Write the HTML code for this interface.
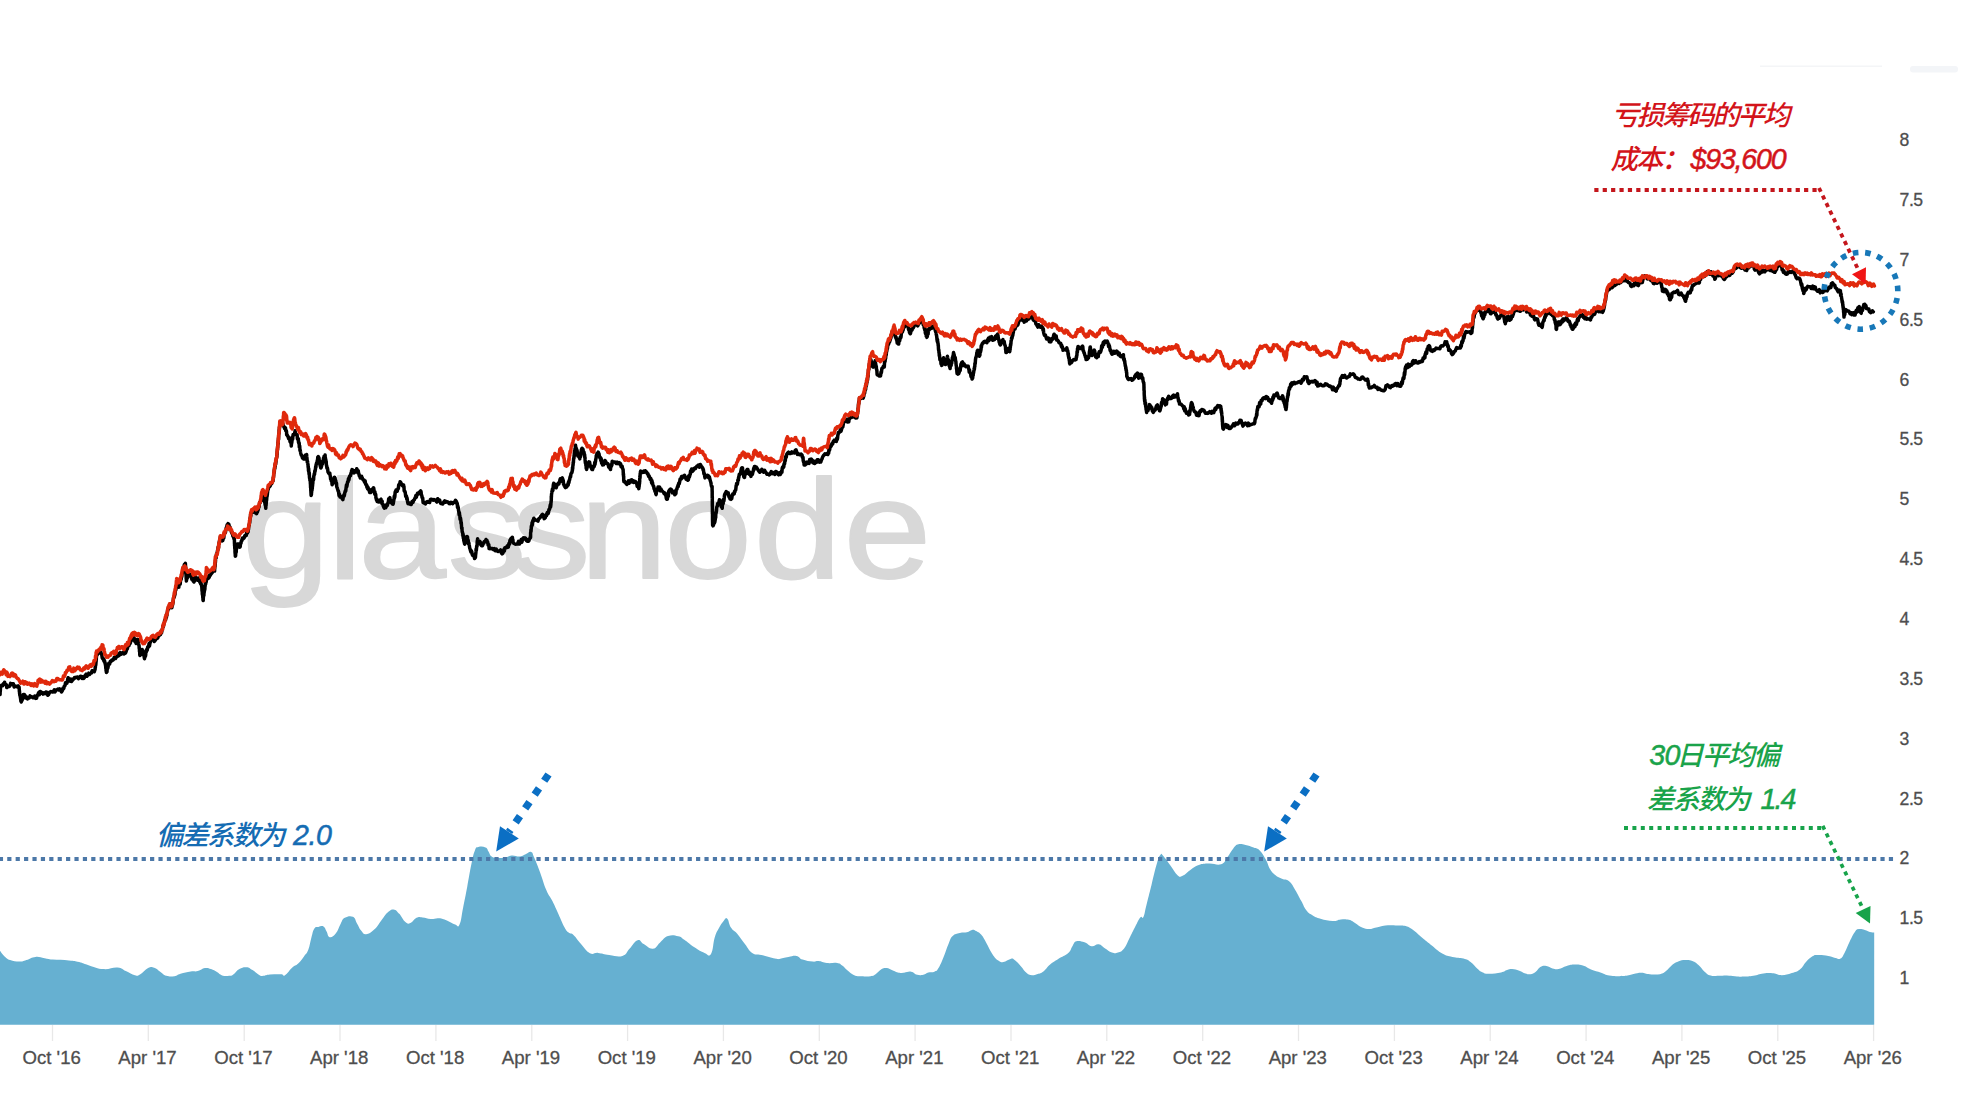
<!DOCTYPE html>
<html lang="zh-CN">
<head>
<meta charset="utf-8">
<title>glassnode chart</title>
<style>
html,body{margin:0;padding:0;background:#fff;}
body{width:1972px;height:1106px;overflow:hidden;position:relative;font-family:"Liberation Sans","Noto Sans CJK SC",sans-serif;}
svg{position:absolute;left:0;top:0;display:block;}
.ax text{font-family:"Liberation Sans",sans-serif;fill:#4e4e4e;stroke:#4e4e4e;stroke-width:0.3px;}
.xl text{font-size:18.6px;text-anchor:middle;}
.yl text{font-size:17.6px;text-anchor:start;letter-spacing:-0.4px;}
.ann text{font-family:"Liberation Sans","Noto Sans CJK SC",sans-serif;font-style:italic;font-weight:500;}
</style>
</head>
<body>
<svg width="1972" height="1106" viewBox="0 0 1972 1106" role="img" aria-label="glassnode chart">
<rect width="1972" height="1106" fill="#ffffff"/>
<!-- faint toolbar remnants -->
<rect x="1760" y="65.5" width="122" height="1.5" fill="#f4f5f7"/>
<rect x="1910" y="66" width="48" height="6.5" rx="3" fill="#f3f5f8"/>
<!-- watermark -->
<text id="wm" transform="scale(1.12,1)" x="216.1 292.4 319.8 399.6 456.6 517.7 593.0 673.0 753.2" y="577.6" font-family="'Liberation Sans',sans-serif" font-size="141" fill="#d8d8d8" stroke="#d8d8d8" stroke-width="1.8" stroke-linejoin="round">glassnode</text>
<!-- area -->
<path d="M0,1024.8 L0,950.8 C1.0,952.0 1.7,953.8 4.1,955.9 C6.5,958.0 6.6,958.7 10.1,960 C13.6,961.3 15.5,961.6 19.3,961.6 C23.1,961.6 22.6,961.1 26.4,960 C30.2,958.9 31.3,957.3 35.5,956.9 C39.7,956.5 40.6,957.7 44.6,958.3 C48.6,958.9 47.0,959.1 52.7,959.6 C58.4,960.1 62.8,959.8 69,960.4 C75.2,961.0 74.4,960.8 79.1,962 C83.8,963.2 83.5,963.7 89.2,965.4 C94.9,967.1 96.8,968.6 103.4,969.1 C110.0,969.6 112.4,967.0 117.6,967.5 C122.8,968.0 121.8,969.3 125.8,971.1 C129.8,972.9 131.6,974.4 134.9,975.2 C138.2,976.0 136.9,976.3 140,974.6 C143.1,972.9 144.8,969.7 148.1,968.1 C151.4,966.5 151.4,966.9 154.2,967.7 C157.0,968.5 157.4,969.8 160.2,971.7 C163.0,973.6 163.0,974.8 166.3,975.8 C169.6,976.8 171.1,976.7 174.4,976.2 C177.7,975.7 176.7,974.9 180.5,973.8 C184.3,972.7 186.7,972.1 190.7,971.5 C194.7,970.9 194.5,971.9 197.8,971.1 C201.1,970.3 201.8,968.6 204.9,968.1 C208.0,967.6 208.2,968.2 211,969.1 C213.8,970.0 214.4,970.6 217,972.1 C219.6,973.6 219.3,974.5 222.1,975.4 C224.9,976.3 226.6,976.0 229.2,975.8 C231.8,975.6 230.9,976.2 233.3,974.6 C235.7,973.0 236.3,970.8 239.4,969.1 C242.5,967.4 243.4,967.1 246.5,967.3 C249.6,967.5 249.4,968.3 252.5,970.1 C255.6,971.9 257.0,973.9 259.6,975.2 C262.2,976.5 261.3,975.9 263.7,975.8 C266.1,975.7 265.8,975.0 269.8,974.6 C273.8,974.2 277.4,974.1 280.9,974.2 C284.4,974.3 282.4,976.7 285,975.2 C287.6,973.7 289.0,970.4 292.1,967.7 C295.2,965.0 295.4,966.4 298.2,963.6 C301.0,960.8 301.9,959.1 304.3,955.9 C306.7,952.7 306.6,954.1 308.3,949.8 C310.0,945.5 310.0,942.6 311.4,937.6 C312.8,932.6 312.7,931.0 314.4,928.5 C316.1,926.0 316.4,927.4 318.5,926.9 C320.6,926.4 321.6,925.4 323.5,926.5 C325.4,927.6 325.2,929.1 326.6,931.6 C328.0,934.1 327.5,936.7 329.6,937.2 C331.7,937.7 333.1,936.8 335.7,933.6 C338.3,930.4 338.7,927.1 340.8,923.4 C342.9,919.7 342.0,919.3 344.8,917.8 C347.6,916.3 350.1,915.5 352.9,916.8 C355.7,918.1 355.1,920.2 357,923.4 C358.9,926.6 359.0,928.0 361.1,930.5 C363.2,933.0 363.0,934.4 366.1,934.2 C369.2,934.0 370.7,932.7 374.2,929.5 C377.7,926.3 378.0,924.6 381.3,920.4 C384.6,916.2 385.3,914.2 388.4,911.7 C391.5,909.2 392.1,909.3 394.5,909.7 C396.9,910.1 397.2,912.1 398.6,913.3 C400.0,914.5 398.7,912.9 400.3,914.9 C401.9,916.9 403.0,920.1 405.4,922 C407.8,923.9 407.8,924.0 410.4,923 C413.0,922.0 413.7,919.1 416.5,917.8 C419.3,916.5 419.3,917.1 422.6,917.4 C425.9,917.7 426.9,918.8 430.7,919 C434.5,919.2 435.0,917.9 438.8,918.2 C442.6,918.5 443.1,918.9 446.9,920.4 C450.7,921.9 452.2,923.5 455.1,924.5 C458.0,925.5 457.6,928.5 459.5,924.5 C461.4,920.5 461.4,916.0 463.2,907.2 C465.0,898.4 465.3,896.8 467.2,886.9 C469.1,877.0 469.5,873.1 471.3,864.6 C473.1,856.1 473.2,854.5 474.9,850.4 C476.6,846.3 475.9,847.7 478.4,847 C480.9,846.3 483.1,846.4 485.5,847.4 C487.9,848.4 487.1,849.3 488.5,851.4 C489.9,853.5 489.5,855.0 491.6,856.5 C493.7,858.0 494.3,857.7 497.6,857.9 C500.9,858.1 502.5,858.1 505.8,857.5 C509.1,856.9 508.5,855.7 511.8,855.5 C515.1,855.3 516.7,856.8 520,856.5 C523.3,856.2 523.4,855.1 526,854.1 C528.6,853.1 529.2,851.2 531.1,852 C533.0,852.8 532.1,852.7 534.2,857.5 C536.3,862.3 537.4,865.1 540.2,872.7 C543.0,880.3 543.5,883.4 546.3,890 C549.1,896.6 549.6,895.4 552.4,901.1 C555.2,906.8 555.7,908.1 558.5,914.3 C561.3,920.5 562.2,923.2 564.6,927.5 C567.0,931.8 566.5,930.8 568.6,932.6 C570.7,934.4 570.9,932.6 573.7,935.2 C576.5,937.8 577.0,939.5 580.8,943.7 C584.6,947.9 585.9,951.2 589.9,953.3 C593.9,955.4 593.6,952.5 598.1,952.9 C602.6,953.3 603.5,954.2 609.2,954.9 C614.9,955.6 617.7,957.3 622.4,955.9 C627.1,954.5 626.0,952.4 629.5,948.8 C633.0,945.2 634.3,941.4 637.6,940.3 C640.9,939.2 640.2,942.1 643.7,944.1 C647.2,946.1 649.0,949.1 652.8,948.8 C656.6,948.5 656.4,945.7 659.9,942.7 C663.4,939.7 663.7,937.5 668,936 C672.3,934.5 674.4,935.3 678.2,936.2 C682.0,937.1 680.5,937.1 684.3,939.7 C688.1,942.3 689.7,944.1 694.4,947.2 C699.1,950.3 700.6,951.3 704.5,952.9 C708.4,954.5 708.6,957.5 711,953.9 C713.4,950.3 712.9,943.5 714.7,937.6 C716.5,931.7 716.6,932.4 718.7,928.5 C720.8,924.6 721.8,923.1 723.8,920.8 C725.8,918.5 725.6,917.2 727.3,918.8 C729.0,920.4 728.6,924.0 730.9,927.5 C733.2,931.0 733.7,929.7 737,933.6 C740.3,937.5 741.6,939.8 745.1,944.3 C748.6,948.8 748.4,950.4 752.2,952.9 C756.0,955.4 756.3,953.6 761.3,954.9 C766.3,956.2 769.5,957.4 773.5,958.3 C777.5,959.2 777.2,958.8 778.6,958.9 C780.0,959.0 777.0,959.4 779.3,958.9 C781.6,958.4 784.4,957.6 788.4,956.9 C792.4,956.2 793.2,955.3 796.5,955.9 C799.8,956.5 798.8,958.3 802.6,959.6 C806.4,960.9 808.9,961.3 812.7,961.6 C816.5,961.9 815.5,960.7 818.8,961 C822.1,961.3 822.6,962.5 826.9,963 C831.2,963.5 833.5,962.4 837.1,963 C840.7,963.6 839.6,963.7 842.2,965.6 C844.8,967.5 845.4,968.9 848.2,971.1 C851.0,973.3 851.2,974.0 854.3,975.2 C857.4,976.4 857.6,976.0 861.4,976.2 C865.2,976.4 867.2,976.7 870.5,976.2 C873.8,975.7 873.0,975.9 875.6,974.2 C878.2,972.5 879.1,970.5 881.7,969.1 C884.3,967.7 884.4,967.9 886.8,968.1 C889.2,968.3 889.2,969.1 891.8,970.1 C894.4,971.1 895.1,971.9 897.9,972.5 C900.7,973.1 900.9,972.9 904,972.7 C907.1,972.5 908.0,971.2 911.1,971.7 C914.2,972.2 914.4,974.1 917.2,974.8 C920.0,975.5 920.7,975.3 923.3,974.8 C925.9,974.3 925.8,973.2 928.4,972.5 C931.0,971.8 932.0,972.7 934.4,971.7 C936.8,970.7 936.4,971.6 938.5,968.1 C940.6,964.6 941.2,962.6 943.6,956.9 C946.0,951.2 946.5,948.6 948.6,943.7 C950.7,938.8 950.1,938.5 952.7,936 C955.3,933.5 956.5,933.9 959.8,933 C963.1,932.1 964.1,932.9 966.9,932.2 C969.7,931.5 969.9,930.2 972,929.9 C974.1,929.6 973.9,929.9 976,931 C978.1,932.1 978.7,931.9 981.1,934.6 C983.5,937.3 983.6,938.2 986.2,942.7 C988.8,947.2 989.5,949.7 992.3,953.9 C995.1,958.1 995.7,958.7 998.3,960.6 C1000.9,962.5 1000.6,962.4 1003.4,962 C1006.2,961.6 1007.9,959.4 1010.5,958.9 C1013.1,958.4 1012.2,958.3 1014.6,960 C1017.0,961.7 1017.8,962.9 1020.6,966 C1023.4,969.1 1024.1,971.0 1026.7,973.1 C1029.3,975.2 1029.4,974.9 1031.8,975.2 C1034.2,975.5 1034.3,975.0 1036.9,974.2 C1039.5,973.4 1039.9,974.0 1043,971.7 C1046.1,969.4 1046.6,967.4 1050.1,964.4 C1053.6,961.4 1054.0,961.6 1058.2,958.9 C1062.4,956.2 1065.0,955.9 1068.3,952.9 C1071.6,949.9 1070.5,948.9 1072.4,946.2 C1074.3,943.5 1073.6,942.2 1076.4,941.3 C1079.2,940.4 1081.0,941.2 1084.5,942.3 C1088.0,943.4 1088.3,945.7 1091.6,946.2 C1094.9,946.7 1095.6,943.8 1098.7,944.3 C1101.8,944.8 1101.7,946.3 1104.8,948.2 C1107.9,950.1 1108.8,951.5 1111.9,952.5 C1115.0,953.5 1115.2,953.5 1118,952.5 C1120.8,951.5 1121.5,951.6 1124.1,948.4 C1126.7,945.2 1126.6,943.8 1129.2,938.7 C1131.8,933.6 1132.7,931.5 1135.3,926.5 C1137.9,921.5 1138.4,919.6 1140.3,917.4 C1142.2,915.2 1142.0,919.8 1143.4,917 C1144.8,914.2 1144.5,912.7 1146.4,905.2 C1148.3,897.7 1149.1,894.4 1151.5,884.9 C1153.9,875.4 1154.5,871.6 1156.6,864.6 C1158.7,857.6 1158.7,857.1 1160.3,855.1 C1161.9,853.1 1160.9,853.6 1163.3,856.1 C1165.7,858.6 1167.1,861.1 1170.4,865.6 C1173.7,870.1 1174.7,872.8 1177.5,875.2 C1180.3,877.6 1179.5,877.1 1182.6,875.8 C1185.7,874.5 1186.9,872.2 1190.7,869.7 C1194.5,867.2 1194.5,866.4 1198.8,865 C1203.1,863.6 1203.8,863.8 1209,863.6 C1214.2,863.4 1216.9,865.6 1221.1,864.2 C1225.3,862.8 1224.4,861.2 1227.2,857.5 C1230.0,853.8 1230.7,851.5 1233.3,848.4 C1235.9,845.3 1235.6,845.1 1238.4,844.3 C1241.2,843.5 1242.0,844.2 1245.5,844.9 C1249.0,845.6 1250.3,846.1 1253.6,847.4 C1256.9,848.7 1256.9,847.6 1259.7,850.4 C1262.5,853.2 1263.4,855.3 1265.8,859.6 C1268.2,863.9 1267.7,865.2 1269.8,868.7 C1271.9,872.2 1272.1,872.4 1274.9,874.8 C1277.7,877.2 1278.7,877.3 1282,878.8 C1285.3,880.3 1286.0,878.7 1289.1,881.3 C1292.2,883.9 1292.4,885.4 1295.2,890 C1298.0,894.6 1298.7,896.4 1301.3,901.1 C1303.9,905.8 1303.7,907.0 1306.3,910.3 C1308.9,913.6 1309.1,913.3 1312.4,915.3 C1315.7,917.3 1315.8,917.5 1320.5,918.8 C1325.2,920.1 1328.0,920.9 1332.7,921 C1337.4,921.1 1337.0,919.7 1340.8,919.4 C1344.6,919.1 1345.6,919.0 1348.9,919.8 C1352.2,920.6 1351.9,921.2 1355,923 C1358.1,924.8 1358.8,926.1 1362.1,927.5 C1365.4,928.9 1365.9,929.1 1369.2,929.1 C1372.5,929.1 1372.5,928.3 1376.3,927.5 C1380.1,926.7 1380.4,926.0 1385.4,925.5 C1390.4,925.0 1392.9,925.4 1397.6,925.5 C1402.3,925.6 1401.9,924.9 1405.7,926.1 C1409.5,927.3 1410.0,927.8 1413.8,930.5 C1417.6,933.2 1417.6,934.0 1421.9,937.6 C1426.2,941.2 1427.4,942.1 1432.1,945.8 C1436.8,949.5 1437.5,950.9 1442.2,953.5 C1446.9,956.1 1447.4,955.7 1452.4,956.9 C1457.4,958.1 1459.3,957.3 1463.5,958.5 C1467.7,959.7 1467.3,959.5 1470.6,962 C1473.9,964.5 1474.9,966.6 1477.7,969.1 C1480.5,971.6 1480.2,971.4 1482.8,972.5 C1485.4,973.6 1484.6,973.8 1488.9,973.8 C1493.2,973.8 1496.9,973.4 1501.1,972.5 C1505.3,971.6 1504.5,970.9 1507.1,970.1 C1509.7,969.3 1509.4,969.0 1512.2,969.1 C1515.0,969.2 1516.2,969.7 1519.3,970.7 C1522.4,971.7 1522.8,972.7 1525.4,973.5 C1528.0,974.3 1528.1,974.5 1530.5,974.2 C1532.9,973.9 1533.2,973.8 1535.5,972.1 C1537.8,970.4 1537.8,968.5 1540.3,967.1 C1542.8,965.7 1543.6,965.7 1546.4,966 C1549.2,966.3 1549.7,967.8 1552.5,968.5 C1555.3,969.2 1555.2,969.7 1558.5,969.1 C1561.8,968.5 1562.9,967.0 1566.7,966 C1570.5,965.0 1571.0,964.7 1574.8,964.6 C1578.6,964.5 1579.1,964.5 1582.9,965.6 C1586.7,966.7 1586.8,967.8 1591,969.5 C1595.2,971.2 1596.9,971.3 1601.1,972.7 C1605.3,974.1 1604.9,974.8 1609.2,975.6 C1613.5,976.4 1615.1,976.2 1619.4,976.2 C1623.7,976.2 1623.7,976.2 1627.5,975.6 C1631.3,975.0 1632.3,974.2 1635.6,973.5 C1638.9,972.8 1638.4,972.5 1641.7,972.7 C1645.0,972.9 1645.5,973.9 1649.8,974.2 C1654.1,974.6 1656.2,974.9 1660,974.2 C1663.8,973.5 1663.2,973.2 1666,971.1 C1668.8,969.0 1669.3,967.3 1672.1,965 C1674.9,962.7 1675.1,962.6 1678.2,961.4 C1681.3,960.2 1682.0,960.1 1685.3,960 C1688.6,959.9 1689.3,959.8 1692.4,961 C1695.5,962.2 1695.7,962.5 1698.5,965 C1701.3,967.5 1701.8,969.2 1704.6,971.7 C1707.4,974.2 1707.4,974.6 1710.7,975.6 C1714.0,976.6 1715.0,975.8 1718.8,975.8 C1722.6,975.8 1723.1,975.3 1726.9,975.4 C1730.7,975.5 1731.2,975.9 1735,976.2 C1738.8,976.5 1738.8,976.7 1743.1,976.6 C1747.4,976.5 1748.6,976.5 1753.3,975.8 C1758.0,975.1 1758.7,974.1 1763.4,973.5 C1768.1,972.9 1769.2,972.9 1773.5,973.3 C1777.8,973.7 1777.4,975.2 1781.7,975.2 C1786.0,975.2 1787.6,974.4 1791.8,973.1 C1796.0,971.8 1796.6,972.1 1799.9,969.5 C1803.2,966.9 1803.2,965.0 1806,962 C1808.8,959.0 1809.3,958.2 1812.1,956.5 C1814.9,954.8 1814.4,955.0 1818.2,954.9 C1822.0,954.8 1824.3,955.2 1828.3,955.9 C1832.3,956.6 1832.6,957.3 1835.4,957.9 C1838.2,958.5 1838.4,959.7 1840.5,958.5 C1842.6,957.3 1842.4,956.8 1844.5,952.9 C1846.6,949.0 1847.2,946.5 1849.6,941.7 C1852.0,936.9 1852.6,935.1 1854.7,932.2 C1856.8,929.3 1856.3,929.6 1858.7,929.1 C1861.1,928.6 1862.2,929.2 1864.8,929.9 C1867.4,930.6 1867.7,931.4 1869.9,932 C1872.1,932.6 1873.2,932.5 1874.2,932.6 L1874.2,1024.8 Z" fill="#66b0d1"/>
<!-- x ticks -->
<g stroke="#e8e8e8" stroke-width="1.3"><line x1="52.5" y1="1025" x2="52.5" y2="1041"/><line x1="148.3" y1="1025" x2="148.3" y2="1041"/><line x1="244.2" y1="1025" x2="244.2" y2="1041"/><line x1="340.0" y1="1025" x2="340.0" y2="1041"/><line x1="435.9" y1="1025" x2="435.9" y2="1041"/><line x1="531.8" y1="1025" x2="531.8" y2="1041"/><line x1="627.6" y1="1025" x2="627.6" y2="1041"/><line x1="723.4" y1="1025" x2="723.4" y2="1041"/><line x1="819.3" y1="1025" x2="819.3" y2="1041"/><line x1="915.1" y1="1025" x2="915.1" y2="1041"/><line x1="1011.0" y1="1025" x2="1011.0" y2="1041"/><line x1="1106.8" y1="1025" x2="1106.8" y2="1041"/><line x1="1202.7" y1="1025" x2="1202.7" y2="1041"/><line x1="1298.5" y1="1025" x2="1298.5" y2="1041"/><line x1="1394.4" y1="1025" x2="1394.4" y2="1041"/><line x1="1490.2" y1="1025" x2="1490.2" y2="1041"/><line x1="1586.1" y1="1025" x2="1586.1" y2="1041"/><line x1="1681.9" y1="1025" x2="1681.9" y2="1041"/><line x1="1777.8" y1="1025" x2="1777.8" y2="1041"/><line x1="1873.6" y1="1025" x2="1873.6" y2="1041"/></g>
<g class="ax xl"><text x="51.7" y="1063.5">Oct '16</text><text x="147.5" y="1063.5">Apr '17</text><text x="243.4" y="1063.5">Oct '17</text><text x="339.2" y="1063.5">Apr '18</text><text x="435.1" y="1063.5">Oct '18</text><text x="531.0" y="1063.5">Apr '19</text><text x="626.8" y="1063.5">Oct '19</text><text x="722.6" y="1063.5">Apr '20</text><text x="818.5" y="1063.5">Oct '20</text><text x="914.4" y="1063.5">Apr '21</text><text x="1010.2" y="1063.5">Oct '21</text><text x="1106.0" y="1063.5">Apr '22</text><text x="1201.9" y="1063.5">Oct '22</text><text x="1297.8" y="1063.5">Apr '23</text><text x="1393.6" y="1063.5">Oct '23</text><text x="1489.5" y="1063.5">Apr '24</text><text x="1585.3" y="1063.5">Oct '24</text><text x="1681.1" y="1063.5">Apr '25</text><text x="1777.0" y="1063.5">Oct '25</text><text x="1872.8" y="1063.5">Apr '26</text></g>
<g class="ax yl"><text x="1899.5" y="146.1">8</text><text x="1899.5" y="205.9">7.5</text><text x="1899.5" y="265.8">7</text><text x="1899.5" y="325.6">6.5</text><text x="1899.5" y="385.5">6</text><text x="1899.5" y="445.4">5.5</text><text x="1899.5" y="505.2">5</text><text x="1899.5" y="565.0">4.5</text><text x="1899.5" y="624.9">4</text><text x="1899.5" y="684.8">3.5</text><text x="1899.5" y="744.6">3</text><text x="1899.5" y="804.5">2.5</text><text x="1899.5" y="864.3">2</text><text x="1899.5" y="924.2">1.5</text><text x="1899.5" y="984.0">1</text></g>
<!-- price lines -->
<path id="black" d="M0,693.7 L0.1,694.4 L0.2,690.2 L0.3,691.3 L0.4,689.5 L0.5,687.7 L0.6,687.2 L0.7,686.3 L0.8,686.1 L1.4,685.3 L2.1,685.3 L2.7,685.6 L3.3,683.8 L4,684.4 L4.6,682.2 L5,683.7 L5.3,684.1 L5.7,684.5 L6.1,684.4 L6.4,685.1 L6.8,687.6 L7.6,686.9 L8.3,686.3 L9.1,686.4 L9.9,685.9 L10.6,683.4 L11.4,684.5 L12.3,683.8 L13.3,683.7 L14.2,687 L15.2,686.1 L16.1,686.2 L17.1,686.9 L18.1,685.9 L19,687.6 L19.1,687 L19.2,688.6 L19.3,690.2 L19.4,691.9 L19.5,690.8 L19.6,693.7 L19.7,693 L19.8,695.2 L20,695.3 L20.2,696.6 L20.4,697.4 L20.7,699.6 L20.9,701.2 L21.1,701.4 L21.3,702 L21.6,700.2 L22,700.5 L22.3,699.5 L22.6,699.2 L22.9,697.4 L23.3,694.6 L23.6,695.2 L24.4,694.6 L25.1,695.5 L25.9,697.9 L26.6,696.9 L27.4,698.9 L28.1,698.2 L29.1,698.1 L30,695.9 L30.9,697 L31.9,696.7 L32.8,697.7 L33.7,697.8 L34.7,696 L35.6,698.4 L36.5,698.2 L37,696.4 L37.5,694.9 L37.9,694.8 L38.4,693.2 L38.9,692.4 L39.3,694.7 L39.8,693.9 L40.3,691.4 L41.2,693.1 L42.2,692.6 L43.1,694.1 L44.1,692.9 L45,693.6 L45.9,692 L46.9,692.2 L47.8,695.3 L48.7,694.4 L49.7,692.2 L50.6,691.6 L51.5,691.7 L52.5,692.1 L53.4,691.6 L54.3,689.8 L55.1,691.9 L56,689.9 L56.9,689.8 L57.8,689.1 L58.7,689.9 L59.6,688.8 L60.6,690.2 L61.5,691.9 L62.4,690.6 L62.9,688.3 L63.3,688.9 L63.8,688.5 L64.2,686.2 L64.7,686.1 L65.1,685.1 L65.5,682.8 L66,682.8 L66.4,682.6 L66.8,683.3 L67.2,682.2 L67.7,679.2 L68.1,677.7 L68.5,678.4 L69.2,680.8 L70,681.1 L70.8,679.1 L71.5,681.5 L72.3,680.4 L73,679 L73.8,678.9 L74.5,677.6 L75.3,678 L76.1,677.3 L76.8,677.1 L77.6,676.9 L78.5,678.6 L79.4,677.7 L80.4,676.2 L81.3,676.5 L82.2,678.4 L83,676.8 L83.7,678.4 L84.5,677.4 L85.2,675.4 L86.1,674.2 L86.9,676.3 L87.8,675 L88.7,673.2 L89.6,674.3 L90.4,673.3 L91.3,673.1 L92.1,670.7 L92.8,670.9 L93.6,671 L94.3,671.7 L95.1,669.3 L95.2,666.9 L95.3,667.8 L95.4,666.5 L95.5,665.5 L95.6,663.1 L95.7,665.4 L95.8,664.5 L95.9,663.6 L96,661.7 L96.1,661.8 L96.2,660 L96.3,659.7 L96.4,656.9 L96.5,656.8 L96.6,655.6 L97.4,654.5 L98.1,652.9 L98.9,653.1 L99.6,651.6 L100.4,652.6 L100.8,651.9 L101.3,653.8 L101.7,654.3 L102.2,657.7 L102.6,658.6 L103.1,659.3 L103.5,658.7 L103.8,660.7 L104,659.4 L104.3,661.9 L104.6,660.9 L104.9,662.5 L105.2,663.7 L105.4,664.8 L105.7,666.3 L105.8,668.5 L106,667.2 L106.1,670.9 L106.2,669.6 L106.4,672.5 L106.5,672.4 L106.7,669.9 L107,671.8 L107.2,668 L107.4,669 L107.7,667.8 L107.9,668 L108.1,666.8 L108.3,665.6 L108.6,663.9 L108.8,663.2 L109.6,664.2 L110.3,661.3 L111.1,661.4 L111.8,660.1 L112.6,660.2 L113.4,659.7 L114.1,657.6 L114.9,657.7 L115.6,658.4 L116.4,657.1 L117,655.5 L117.7,656.2 L118.3,654 L118.9,655.7 L119.6,653.1 L120.2,652.6 L121.1,654.2 L122,653.3 L123,652.4 L123.9,653.9 L124.8,652.6 L125.2,653.3 L125.7,652.5 L126.1,651.6 L126.5,650.3 L126.9,646.6 L127.4,648.7 L127.8,646.5 L128.2,645.5 L128.7,645.3 L129.1,645.5 L129.5,642 L129.9,643.7 L130.4,642.9 L130.8,640.4 L131.6,640.4 L132.4,638.4 L133.1,639.8 L133.9,637.4 L134.2,638.5 L134.6,640.6 L134.9,641.6 L135.2,639.3 L135.5,642.2 L135.9,641 L136.2,643.5 L136.8,641.7 L137.3,642.8 L137.8,639.6 L138.4,640.4 L138.5,640.3 L138.6,641.6 L138.7,643.7 L138.8,644.7 L138.9,645.7 L139,645.4 L139.1,646 L139.2,648.5 L139.3,647.7 L139.4,648.7 L139.5,651.8 L139.6,650.6 L139.7,651.4 L139.8,655.3 L139.9,654.5 L140,655.6 L140.3,653.1 L140.6,652.8 L140.9,654.6 L141.3,653.7 L141.6,650.8 L141.9,651.3 L142.2,649.5 L142.4,651.4 L142.7,651.7 L142.9,650.7 L143.1,654.5 L143.3,654.4 L143.6,654.6 L143.8,654.3 L144,655.9 L144.3,657.6 L144.5,658.7 L144.7,657.4 L145,657.1 L145.2,655.3 L145.4,656.4 L145.7,654.9 L145.9,651.6 L146.1,651.4 L146.3,651.9 L146.6,649.6 L146.8,649.5 L147.2,650.2 L147.7,647 L148.1,647.2 L148.6,646.9 L149,643.6 L149.5,646 L149.9,643.5 L150.3,642.2 L150.8,640.6 L151.2,639.7 L151.7,638.2 L152.1,638.9 L153.1,637.8 L154.2,641.5 L155.2,640.4 L155.8,639.4 L156.5,638.4 L157.1,638.3 L157.7,638.1 L158.4,635.4 L159,635.8 L159.5,634.6 L160,634.4 L160.5,634.5 L161,632.6 L161.5,633 L162,630.5 L162.3,629.2 L162.6,628.1 L162.9,626 L163.2,626.6 L163.4,626.6 L163.7,624.4 L164,623.5 L164.3,622.9 L164.6,620.6 L164.8,620.2 L165.1,619.6 L165.3,619.2 L165.6,619.9 L165.9,618.3 L166.1,617.9 L166.4,617.4 L166.6,614.2 L166.9,615.7 L167.1,613.2 L167.4,612.3 L167.7,609.7 L167.9,609.5 L168.2,609.3 L168.5,606.9 L168.8,609.1 L169.1,606.5 L169.3,606.8 L169.6,604.7 L170.2,603.9 L170.8,606.3 L171.3,607.2 L171.9,607.7 L172.1,605.6 L172.3,606.1 L172.5,604.8 L172.7,604.4 L172.9,601.4 L173.1,602.7 L173.2,600.6 L173.4,598.8 L173.6,597.5 L173.8,597.9 L174,596.7 L174.2,596.3 L174.4,597 L174.6,592.9 L174.8,595.2 L175,594.3 L175.2,592.3 L175.3,591.2 L175.5,590.7 L175.7,587.6 L175.9,589.9 L176.1,586.9 L176.3,585.4 L176.5,585.6 L177.3,586.1 L178,585.1 L178.8,587.2 L179.1,584.6 L179.4,583.7 L179.6,582.8 L179.9,584.1 L180.2,584.1 L180.4,581.4 L180.7,580 L181,579.6 L181.2,579.1 L181.4,577 L181.6,577 L181.8,576.5 L182,574.7 L182.2,573.6 L182.3,573.4 L182.5,572.5 L182.7,572.4 L182.9,569.1 L183.1,568.2 L183.3,568.9 L183.6,567.2 L184,567.7 L184.3,564.6 L184.6,567 L185,566.1 L185.3,563.6 L185.4,563.4 L185.4,566.9 L185.5,564.8 L185.5,567 L185.6,566.6 L185.6,570.5 L185.7,571.1 L185.8,571.6 L185.8,571 L185.9,571.2 L185.9,574.2 L186,573.8 L186.1,576.4 L186.1,574.9 L186.2,577.9 L186.2,578.9 L186.3,577.7 L186.3,578.6 L186.4,581.1 L186.7,579.1 L187.1,578.4 L187.4,576.9 L187.7,577.5 L188,575.1 L188.4,575.6 L188.7,575 L189.8,574.1 L190.9,576.5 L191.4,575.8 L191.8,579.2 L192.3,577.7 L192.7,580 L193.2,581.1 L194,581.9 L194.8,580.5 L195.5,577.2 L196.3,578 L197.3,580.1 L198.3,578.1 L199.3,579.6 L199.6,581.6 L200,582.5 L200.3,581.6 L200.6,583.8 L200.9,582.3 L201.3,584.7 L201.6,585.6 L201.7,586.6 L201.8,586.8 L201.9,588.3 L202,590.6 L202.1,591.3 L202.2,590 L202.3,592.9 L202.3,594.3 L202.4,593.8 L202.5,595.1 L202.6,594 L202.7,594.9 L202.8,597.8 L202.9,596.7 L203,600.2 L203.1,600.1 L203.2,600.6 L203.4,596.7 L203.5,595.7 L203.6,595.9 L203.8,595.5 L203.9,595.4 L204,593 L204.2,592.5 L204.3,590.1 L204.5,590.9 L204.6,588.5 L204.7,590 L204.9,588.7 L205,585.3 L205.1,586.3 L205.3,583.4 L205.4,584.1 L205.6,584.3 L205.8,580.6 L206,582.8 L206.2,581.6 L206.3,581 L206.5,578.7 L206.7,577.3 L206.9,576.5 L208.1,578.4 L209.2,577.3 L209.7,574.9 L210.2,575.5 L210.7,574.4 L211.2,574 L211.7,571.9 L212.2,572.7 L213,570.3 L213.7,569.6 L214.5,570.4 L214.6,571.1 L214.7,567.9 L214.8,568.3 L214.9,566.4 L215,565.3 L215.1,566.5 L215.2,562.4 L215.4,562.5 L215.5,560.8 L215.6,559.7 L215.7,558.7 L215.8,557.7 L215.9,556.8 L216,557.5 L216.2,557.9 L216.4,554.5 L216.6,553.9 L216.8,553.4 L217,553.6 L217.2,553.3 L217.4,551.2 L217.7,550 L217.9,549.8 L218.1,547.1 L218.3,547.6 L218.5,548.1 L218.7,544.5 L218.9,543.3 L219.1,543.8 L219.3,541.3 L219.4,541.9 L219.6,541.8 L219.8,539.4 L220,538.6 L220.2,539.8 L220.3,537.3 L220.5,536.5 L221,538.2 L221.5,537.7 L222,540.9 L222.5,540.3 L222.8,540.4 L223.2,538 L223.5,536.4 L223.8,538.1 L224.1,533.9 L224.4,533.1 L224.8,532.1 L225.1,532.7 L225.4,532.6 L225.7,530.8 L226,529.7 L226.3,527.5 L226.6,528 L226.9,526 L227.2,524.7 L227.5,524.9 L227.8,524.8 L228.1,523.6 L228.5,524.1 L228.9,524.4 L229.3,527 L229.6,527.2 L230,527.2 L230.4,529.3 L230.8,529.8 L231.2,530.4 L231.5,532.4 L231.9,533.1 L232.2,533.8 L232.5,532.8 L232.9,536.2 L233.2,536.7 L233.5,535.4 L233.9,538.7 L234.2,538 L234.3,538.9 L234.3,538.3 L234.4,540.5 L234.4,540.1 L234.5,544 L234.5,541.9 L234.6,546 L234.6,544 L234.7,545.9 L234.8,548.8 L234.8,548.4 L234.9,547.4 L234.9,549.6 L235,549.2 L235,552.5 L235.1,551.1 L235.1,553.3 L235.2,554.1 L235.2,553.8 L235.3,556.3 L235.5,555.7 L235.6,556 L235.8,552.1 L235.9,551.6 L236.1,552 L236.2,552.2 L236.4,548.4 L236.5,548.9 L236.7,548.2 L236.8,548.2 L237,544.7 L237.1,546.6 L237.3,544.1 L238,546.5 L238.6,544 L239.2,545.1 L239.9,547.1 L240.2,546.6 L240.4,544.3 L240.7,543.5 L241,543.3 L241.2,541.4 L241.5,540.7 L241.8,540.9 L242.1,539.1 L242.3,539.3 L242.6,538 L243.3,538.6 L244.1,537.9 L244.8,535.8 L245.6,535 L246.2,535.6 L246.8,532.4 L247.3,533.3 L247.9,531.2 L248.1,531.9 L248.3,529.5 L248.5,529.4 L248.7,526.6 L248.8,525.6 L249,525.7 L249.2,525.1 L249.4,523.6 L249.5,523.1 L249.7,522.6 L249.8,521.3 L249.9,519.8 L250.1,518.2 L250.2,518 L250.3,517.3 L250.5,516.4 L250.6,514 L250.7,516.3 L250.9,515.2 L251,512.9 L251.8,512.4 L252.5,510.7 L253.2,512.1 L254,509.9 L254.5,510.3 L255,511 L255.6,512.9 L256.1,512.1 L256.6,513.7 L256.9,512.9 L257.2,511.2 L257.5,511.8 L257.8,510.6 L258.1,510.2 L258.4,508.9 L258.6,507.8 L258.9,507 L259.2,506.7 L259.5,503.4 L259.8,502.3 L260.1,503 L260.4,502.2 L260.6,501.4 L260.9,500 L261.1,501.1 L261.4,499.2 L261.6,499.3 L261.9,496.9 L262.1,494.3 L262.4,493.4 L262.6,495.6 L262.9,493.3 L263.1,492.4 L263.3,492.6 L263.4,495.8 L263.6,496.7 L263.7,496.5 L263.9,498.5 L264,497.3 L264.2,497.3 L264.3,498 L264.5,501.9 L264.6,499.7 L264.8,501.6 L264.9,503.2 L265.1,504.8 L265.2,503.3 L265.4,505.4 L265.5,505.5 L265.7,507.6 L265.8,508.3 L265.9,505.5 L266,503.9 L266.1,505.5 L266.2,503.2 L266.3,503.1 L266.4,501.5 L266.5,500 L266.6,500.3 L266.8,497.4 L266.9,495.9 L267,495.6 L267.1,496.4 L267.2,494.1 L267.3,495.2 L267.4,493.8 L267.5,492.2 L267.6,492.5 L267.7,490.1 L268.1,489.7 L268.4,488.8 L268.8,487.1 L269.2,486.5 L269.6,485.6 L269.9,486.3 L270.3,485.7 L270.7,483.2 L271.5,483.9 L272.2,482 L273,481 L273.1,479.9 L273.2,479.4 L273.3,477.4 L273.5,477.2 L273.6,475.8 L273.7,475.3 L273.8,472.8 L273.9,473.4 L274,473.4 L274.2,470.1 L274.3,472.3 L274.4,469.9 L274.5,468.8 L274.7,467.1 L274.9,468.5 L275,464.7 L275.2,466.6 L275.4,463.1 L275.6,464.4 L275.7,463.8 L275.9,462.2 L276.1,460.5 L276.3,458.4 L276.4,458.2 L276.6,457.8 L276.8,456.6 L276.9,457 L277,453.1 L277.1,454.6 L277.2,451.3 L277.2,451.1 L277.3,450.9 L277.4,449.2 L277.5,450 L277.6,446.6 L277.7,447.9 L277.8,445 L277.9,444.9 L278,444.4 L278,442 L278.1,443.2 L278.2,443.4 L278.3,439.9 L278.4,439.9 L278.5,437.7 L278.6,439.6 L278.6,438.7 L278.7,434.6 L278.8,434.7 L278.9,433.2 L279,433.5 L279.1,432.3 L279.1,430.1 L279.2,429.9 L279.3,431.1 L279.4,427.4 L279.5,428 L279.6,427.6 L279.6,427.5 L279.7,425.5 L279.8,424.3 L279.9,423.1 L280.9,422 L281.9,423.9 L282.9,423.9 L283.5,426.4 L284,426.4 L284.6,428.4 L285.2,427.7 L285.5,428 L285.7,430.6 L286,430.1 L286.2,430.4 L286.5,431.5 L286.7,434.9 L287,435 L287.2,434.9 L287.5,436.1 L288.1,436.5 L288.6,438.6 L289.2,437.7 L289.8,439.1 L290,441.6 L290.2,441.4 L290.4,441.3 L290.7,442.8 L290.9,442.6 L291.1,443.5 L291.3,446 L291.4,444.3 L291.6,443.4 L291.8,442.6 L291.9,441.1 L292.1,440.3 L292.2,440.7 L292.4,437.8 L292.5,436.8 L292.7,439.1 L292.8,436.6 L293,435.8 L293.1,434.6 L293.6,435.2 L294.1,434.2 L294.6,433.4 L295.1,430.8 L295.4,433 L295.8,433.6 L296.1,434.2 L296.4,434.3 L296.8,435.2 L297.1,434.7 L297.4,438.9 L297.8,438 L298.1,439.1 L298.3,438.7 L298.5,442.5 L298.6,440.9 L298.8,443.3 L299,442.6 L299.2,443.1 L299.3,447.1 L299.5,446.8 L299.7,445.9 L299.9,449.3 L300,450.6 L300.2,449.9 L300.4,451.3 L300.7,453.1 L301.1,454.6 L301.4,455.4 L301.8,455.5 L302.1,456.5 L302.5,458 L302.8,457.5 L303.2,457.7 L303.5,458.9 L304.1,457.7 L304.7,459 L305.3,455.2 L305.9,455.9 L306.5,455.1 L306.6,454.4 L306.8,456.9 L306.9,457.6 L307,458.7 L307.2,460.8 L307.3,462.3 L307.4,462 L307.6,461.5 L307.7,462.9 L307.9,464.5 L308,464.4 L308.1,466.3 L308.3,468 L308.4,468.5 L308.5,470.8 L308.7,468.6 L308.8,471.1 L308.9,472.2 L309.1,474.4 L309.2,472.5 L309.3,473.4 L309.5,477.5 L309.6,478.1 L309.8,478.5 L309.9,480.4 L310,478.4 L310.2,479.1 L310.3,481.7 L310.4,484.2 L310.4,483.6 L310.5,482.8 L310.5,485.1 L310.6,487.9 L310.6,485.7 L310.7,486.5 L310.7,487.4 L310.8,489.7 L310.8,490.7 L310.9,490.8 L310.9,491.8 L311,493.1 L311,493.6 L311.1,495.4 L311.2,493.7 L311.4,494.9 L311.5,492.7 L311.6,492.5 L311.7,489.3 L311.9,488.7 L312,490.5 L312.1,488.4 L312.3,488.7 L312.4,484.9 L312.5,486.4 L312.7,483.8 L312.8,483.7 L312.9,481.9 L313,480.6 L313.2,479.6 L313.3,480.2 L313.5,479 L313.6,479.7 L313.8,475.9 L314,475.6 L314.2,474.2 L314.3,473.4 L314.5,474.6 L314.7,472.1 L314.9,470.5 L315,471.8 L315.2,470.4 L315.4,469.5 L315.5,468.3 L315.7,466.3 L315.9,467.3 L316.1,464.5 L316.2,464.7 L316.4,463.5 L316.7,462.7 L317,463 L317.3,460.3 L317.5,460.6 L317.8,457 L318.1,457.7 L318.4,456.6 L318.6,457.8 L318.8,458.6 L319,457.9 L319.2,461.4 L319.4,460.4 L319.6,461.3 L319.9,464.9 L320.1,463.8 L320.3,466.4 L320.5,464.5 L320.7,467.9 L320.9,468 L321.2,467.3 L321.5,466.5 L321.8,463.8 L322,464.6 L322.3,462.9 L322.6,463.9 L322.9,460.6 L323.2,460.4 L323.5,457.9 L323.8,460 L324.1,456.2 L324.5,456.5 L324.8,457 L325.1,455.1 L325.2,457.6 L325.4,457.7 L325.5,458.8 L325.6,459 L325.8,459.8 L325.9,460.5 L326.1,462 L326.2,461.2 L326.3,463.6 L326.5,465.9 L326.6,465.4 L326.7,465.9 L326.9,468.1 L327,468 L327.3,467.6 L327.7,469.4 L328,472.1 L328.4,472.5 L328.7,473.2 L329.1,472.9 L329.4,472.9 L329.8,473.2 L330.1,475.6 L330.4,476.5 L330.6,479.1 L330.9,478.3 L331.1,480.5 L331.4,479.9 L331.6,481.3 L331.9,482.6 L332.1,484.7 L332.4,484 L332.7,483.2 L333,480.8 L333.3,482.3 L333.7,480.1 L334,479.9 L334.3,477.2 L334.6,477.2 L334.8,479.3 L335.1,478.1 L335.3,480.5 L335.6,480.4 L335.8,480.8 L336,483.6 L336.3,484.3 L336.5,483 L336.7,486.5 L337,487.6 L337.2,487.7 L337.5,488.8 L337.7,489.3 L338,490.6 L338.3,491.6 L338.6,491.7 L338.9,494.5 L339.1,495.7 L339.4,493.9 L339.7,496 L340,496.9 L340.9,496.4 L341.7,497.8 L342.6,499.2 L342.9,499.6 L343.2,497.4 L343.5,496.7 L343.8,495 L344.1,496.1 L344.4,495.2 L344.7,493.2 L345,492 L345.3,490.8 L345.5,491.5 L345.8,490.6 L346,488.5 L346.2,486.9 L346.5,484.7 L346.7,486.9 L346.9,486 L347.1,485.1 L347.4,483 L347.6,481.7 L348,482 L348.5,478.4 L348.9,480 L349.3,477.2 L349.7,476.2 L350.2,475.3 L350.6,475.6 L350.9,473.4 L351.1,472.9 L351.4,473.3 L351.6,470.6 L351.9,470 L352.1,469.5 L352.7,470.1 L353.2,472.7 L353.8,472.9 L354.4,472.6 L355,470.8 L355.5,471.8 L356.1,471.4 L356.7,468.8 L357.1,469.4 L357.4,471.5 L357.8,472.8 L358.2,470.6 L358.6,473.3 L358.9,473.7 L359.3,475.9 L359.7,475.6 L360.3,478 L361,476.5 L361.6,476.3 L362.2,478 L362.9,479.4 L363.5,480.2 L364,480.1 L364.5,482.1 L365.1,480.9 L365.6,484 L366.1,485 L366.6,484.8 L366.9,487.2 L367.3,486.3 L367.6,488.7 L367.9,487.2 L368.3,488.1 L368.6,488.8 L368.9,490.5 L369.3,490 L369.6,492.4 L370.2,490 L370.9,492.5 L371.5,489.7 L372.1,489.3 L372.8,488.8 L373.4,487.8 L373.7,488.1 L373.9,489.3 L374.2,492.1 L374.4,491.8 L374.7,493.9 L374.9,491.7 L375.2,494.8 L375.4,493.9 L375.7,494.4 L375.9,497.9 L376.2,498.2 L376.4,499.7 L376.7,500.5 L376.9,499 L377.2,501.5 L378.1,501.7 L379.1,502 L380.1,500 L381,499.2 L381.3,501.3 L381.6,502.5 L381.9,503.4 L382.1,501 L382.4,503.1 L382.7,504.2 L383,504.9 L383.3,506.1 L384.2,508.1 L385,505.5 L385.9,507.6 L386.2,505.1 L386.6,506.1 L386.9,504.5 L387.3,505.4 L387.6,504.5 L388,502.6 L388.3,502.8 L388.7,498.7 L389,499.3 L389.4,498.5 L389.9,497.7 L390.4,501.6 L390.9,500.4 L391.4,502.8 L391.9,502.9 L392.4,504 L392.9,503.8 L393.1,504.2 L393.3,503.4 L393.5,502 L393.8,500.1 L394,500 L394.2,496.5 L394.4,495.9 L394.6,497.8 L394.9,496 L395.1,492.7 L395.3,491.7 L395.5,492.4 L396.1,490 L396.6,490.3 L397.2,491.2 L397.8,489.3 L398.1,488.3 L398.4,488.4 L398.7,484.8 L399,485.4 L399.2,484.8 L399.5,484.2 L399.8,483.6 L400.1,481.7 L400.9,482.6 L401.6,484.3 L402.4,485.6 L403.1,484.8 L403.3,486.4 L403.6,485 L403.8,486.6 L404,487.3 L404.2,491 L404.5,491.3 L404.7,491.2 L404.9,491.3 L405.2,492.2 L405.4,493.9 L405.7,496.4 L405.9,495.5 L406.2,495.8 L406.5,496.5 L406.8,499.3 L407,497.7 L407.3,499.5 L407.6,501.9 L407.9,503.1 L408.1,503.7 L408.4,503.8 L409.3,503.1 L410.2,504.3 L411.2,504.5 L412.1,501.5 L413,502.3 L413.5,500.3 L413.9,500.1 L414.4,499.8 L414.9,498.2 L415.4,497.1 L415.9,495.5 L416.3,497.4 L416.8,495.4 L417.6,493.2 L418.3,493.9 L419.1,492.4 L419.8,493.3 L420.6,491.6 L420.8,490.9 L421.1,491.9 L421.3,494.3 L421.5,495.2 L421.8,495.3 L422,497.4 L422.2,497.1 L422.4,498.1 L422.7,497.9 L422.9,500.3 L423.1,502.5 L423.4,501.9 L423.6,503 L424.5,502.8 L425.4,504 L426.4,502 L427.3,501.6 L428.2,502.3 L428.9,501.6 L429.7,502.4 L430.4,499.4 L431.2,499.2 L432.1,499.4 L433,500.2 L434,499.5 L434.9,499.9 L435.8,500.7 L436.8,502.1 L437.7,498.8 L438.7,500.8 L439.6,500 L440.2,502.2 L440.8,503.5 L441.3,503.2 L441.9,503.8 L442.8,504 L443.7,502.1 L444.7,500.8 L445.6,502.2 L446.5,501.5 L447.4,501.9 L448.3,502.4 L449.2,503.6 L450.1,503.7 L451,502.3 L451.9,502.8 L452.8,503.6 L453.7,502.2 L454.6,502.2 L455.5,500.3 L456.4,501.5 L456.6,502.8 L456.8,502.5 L457.1,504.5 L457.3,503.5 L457.5,507.5 L457.7,505.4 L457.9,508.5 L458.2,507.2 L458.4,509.7 L458.6,510.6 L458.8,511.8 L459,513.5 L459.2,514.9 L459.4,512.6 L459.6,514.9 L459.8,515.6 L459.9,516.9 L460.1,519.3 L460.3,517.8 L460.5,518.1 L460.7,519.6 L460.9,521.3 L461,523.4 L461.2,522.2 L461.3,522.6 L461.4,524.5 L461.6,527.7 L461.7,528.7 L461.9,527.2 L462,528.1 L462.1,531 L462.3,532.3 L462.4,531.9 L462.6,532.8 L462.8,533.9 L462.9,535.8 L463.1,534.1 L463.3,538.2 L463.5,536.1 L463.6,536.9 L463.8,541 L464,540.4 L464.2,542.4 L464.3,540.6 L464.5,543.6 L464.7,544.1 L465,543.5 L465.3,542.5 L465.6,541.5 L465.9,540.2 L466.1,539.3 L466.4,536.8 L466.7,539.1 L467,536.5 L467.2,536.7 L467.5,536.8 L467.7,539.7 L467.9,539.9 L468.2,540.2 L468.4,543.7 L468.6,543.6 L468.8,542.4 L469.1,544.3 L469.3,545.3 L469.5,546.7 L469.8,548.6 L470,548.7 L470.4,550.2 L470.9,552 L471.3,550.7 L471.8,551.7 L472.2,554.5 L472.7,555.4 L473.1,554.7 L473.6,555.1 L474.1,555.6 L474.6,558.6 L475.1,557.8 L475.2,557.8 L475.4,557.6 L475.5,556.6 L475.6,554.9 L475.8,553.5 L475.9,552.6 L476,551.4 L476.1,548.9 L476.3,550.3 L476.4,549.8 L476.5,548.7 L476.7,546 L476.8,545.7 L476.9,546.6 L477.1,545.6 L477.2,542 L477.3,540.6 L477.4,541.7 L477.6,538.8 L477.7,539.5 L478.2,542 L478.8,541.1 L479.3,543.1 L479.9,541.4 L480.4,544.1 L481,545 L481.5,545.6 L482.1,543.2 L482.6,545.7 L483.2,543.3 L483.8,543.2 L484.3,541.4 L484.9,541.3 L485.4,541.2 L486,539.5 L486.3,540.9 L486.7,541.7 L487,540.4 L487.4,542.8 L487.7,542.1 L488.1,544.9 L488.4,544.3 L488.8,544.6 L489.1,548.6 L489.5,547.5 L489.8,548.7 L490.7,548.2 L491.6,548.7 L492.6,548.4 L493.5,549.6 L494.4,548.7 L495.3,550.7 L496.2,549 L497.2,550.9 L498.1,551.4 L499,550.9 L499.9,550.9 L500.6,549.9 L501.4,553 L502.1,553.9 L502.9,553.2 L503.3,552.1 L503.7,551 L504,549.2 L504.4,551 L504.8,547.8 L505.2,547.9 L506.2,547.8 L507.3,545.8 L508.3,547.1 L508.6,545.7 L508.9,543.6 L509.2,543 L509.6,544.2 L509.9,540.6 L510.2,539.7 L510.5,540.3 L511,538.4 L511.6,538 L512.1,538 L512.4,537.3 L512.6,539.9 L512.9,539.7 L513.1,542.4 L513.4,542.9 L513.6,543.3 L514.6,543.8 L515.6,544.2 L516.6,544.1 L517.5,544 L518.5,541.4 L519.5,544 L520.4,541.8 L521.2,539.6 L521.9,542.2 L522.7,538.8 L523.4,537.8 L524.2,538.8 L525,537.8 L525.8,538.4 L526.5,540.7 L527.3,541.1 L528,539.8 L528.8,541.1 L529.5,538.8 L530.3,538 L530.4,536 L530.5,537.7 L530.6,536.8 L530.6,533.1 L530.7,532.1 L530.8,532.2 L530.9,529.8 L531,529.3 L531.1,531.2 L531.1,530 L531.2,529.1 L531.3,526.8 L531.4,525.8 L531.7,526.5 L532.1,522.5 L532.4,524.9 L532.8,520.8 L533.1,520.1 L533.4,521.1 L533.8,518.2 L534.1,519 L535.1,519.7 L536.2,520.3 L537.2,520.5 L538,521.1 L538.7,518.7 L539.5,518.3 L540.2,517.5 L540.8,516.3 L541.4,515.7 L541.9,514.7 L542.5,514.4 L543.1,515.2 L543.6,516.9 L544.2,518.7 L544.8,518.2 L545.3,517.6 L545.9,514.9 L546.4,515.8 L547,513.1 L547.5,512.3 L548.1,513.6 L548.6,512.1 L548.9,509.6 L549.2,509.1 L549.5,509.4 L549.8,508.1 L550,506.5 L550.3,504.8 L550.6,507.1 L550.9,504.5 L551,501.9 L551,501.4 L551.1,502.5 L551.2,500.7 L551.2,500.6 L551.3,500.3 L551.3,496.2 L551.4,497.4 L551.5,494.7 L551.5,494.9 L551.6,493.9 L551.8,492.7 L552,490.9 L552.2,491.2 L552.4,489 L552.6,491 L552.9,490.1 L553.1,487.7 L553.3,485.1 L553.5,484.2 L553.7,483.3 L553.9,484 L554.5,486.6 L555,484.3 L555.6,486.3 L556.2,487.8 L556.7,486.1 L557.1,485.2 L557.6,484.4 L558,483.6 L558.5,483.2 L558.9,483.9 L559.2,481.9 L559.6,482.1 L559.9,480.1 L560.3,478.7 L561.3,478.8 L562.3,477.9 L562.5,480.4 L562.8,479 L563,482.3 L563.3,480.5 L563.5,484.2 L563.8,483.9 L564,485.3 L564.3,484.9 L564.5,486.3 L565.5,487.6 L566.6,486.9 L567.6,485.5 L567.9,483.7 L568.2,485.2 L568.5,481.8 L568.8,482.9 L569,482.3 L569.3,480.1 L569.6,480.1 L569.9,477.9 L570.2,476.6 L570.6,476.9 L570.9,474.1 L571.2,473.5 L571.5,472.7 L571.9,472.7 L572.2,471.1 L572.3,469.9 L572.4,470.8 L572.5,467.4 L572.7,468.9 L572.8,466.7 L572.9,465.7 L573,464.5 L573.1,465.2 L573.2,462.1 L573.4,463 L573.5,460.8 L573.6,458.2 L573.7,458.9 L573.8,458.1 L573.9,458.7 L574.1,455 L574.2,456.6 L574.3,452.8 L574.4,455 L574.5,451.1 L574.7,450.8 L574.8,450.9 L574.9,450.3 L575,448.7 L575.1,449.5 L575.3,448.3 L575.4,445.5 L575.5,445.2 L575.7,447 L575.9,447.5 L576.2,448.7 L576.4,448.6 L576.6,449.4 L576.8,451.1 L577.1,450.4 L577.3,452.7 L577.5,453.6 L577.9,456.1 L578.3,455 L578.6,454.6 L579,457.1 L579.4,457.3 L579.8,458.9 L580,456.6 L580.2,457.2 L580.3,455.9 L580.5,456.6 L580.7,456 L580.9,451.9 L581.1,452.4 L581.3,450.2 L581.5,449.3 L581.6,450 L581.8,450 L582,448.2 L582.3,448.4 L582.7,451.5 L583,449.2 L583.3,451.6 L583.6,452.7 L584,452.2 L584.3,454.3 L584.4,455 L584.6,454.5 L584.7,455.4 L584.8,457.8 L585,457.3 L585.1,459.9 L585.2,461 L585.4,463.1 L585.5,463 L585.7,462.4 L585.8,463 L585.9,465.7 L586.1,465 L586.2,468.4 L586.3,467.6 L586.5,468 L586.6,469.5 L586.9,467.3 L587.2,467.5 L587.5,466.2 L587.8,466.2 L588,463.7 L588.3,463 L588.6,462.5 L588.9,461.9 L589.2,462.1 L589.6,462.1 L589.9,464.3 L590.2,465 L590.6,465.7 L590.9,467.4 L591.2,466.2 L591.6,468.6 L591.9,469.5 L592.5,469.6 L593,468.1 L593.6,467 L594.2,466.5 L594.4,464.6 L594.6,464.1 L594.8,462.2 L595,464.6 L595.2,462.7 L595.4,461.9 L595.5,461.6 L595.7,459.5 L595.9,458.9 L596.1,457.9 L596.3,455.4 L596.5,455.9 L597,453.3 L597.4,454.9 L597.8,454.7 L598.3,452.1 L598.6,453.8 L599,453.7 L599.3,455.7 L599.6,457 L600,458.1 L600.3,457.4 L600.6,458.9 L600.9,460.8 L601.2,458.6 L601.5,462.5 L601.7,463.3 L602,461.6 L602.3,464 L602.6,465 L603.1,464.9 L603.5,464.8 L604,463.5 L604.4,462.9 L604.9,460.4 L605.5,461.2 L606,462 L606.5,463.5 L607.1,463.5 L607.6,463.4 L608.1,463.9 L608.7,467.1 L609.2,466.8 L609.7,468 L610.2,468.8 L610.5,469.5 L610.8,465.5 L611.1,465.8 L611.4,466.4 L611.6,464.1 L611.9,465.2 L612.2,461.2 L612.5,461.9 L613.5,462 L614.4,461.9 L615.3,462.4 L616.3,463.5 L617.2,462.1 L618.2,463.6 L619.1,462.6 L620.1,464.2 L620.6,463.7 L621.1,466.7 L621.6,466.8 L622.1,466.1 L622.6,468.5 L623.1,469.5 L623.2,471.2 L623.2,472.5 L623.3,472.4 L623.3,474.9 L623.4,473.9 L623.5,474.1 L623.5,475.1 L623.6,477.2 L623.7,476.3 L623.7,480.5 L623.8,480.8 L623.8,479.9 L623.9,481.7 L624.9,481.6 L625.8,483.2 L626.8,484.4 L627.7,483.2 L628.5,480.8 L629.2,483.2 L630,481.4 L630.7,480.2 L631.5,479.9 L632.2,482 L633,480.6 L633.8,482.5 L634.8,481.4 L635.8,481.9 L636.8,484 L637.2,486.5 L637.6,485 L638,486.1 L638.4,487.4 L638.8,488.6 L638.9,487 L639,485.2 L639.1,486.8 L639.2,485.2 L639.3,484.6 L639.4,481.5 L639.5,483.8 L639.6,481.7 L639.7,481.8 L639.7,478.7 L639.8,477.9 L639.9,475.9 L640,478.2 L640.1,476.2 L640.2,473.2 L640.3,473.8 L640.4,472.8 L640.5,472.1 L640.6,471.1 L641.6,472.4 L642.7,472.5 L643.7,471.1 L644.5,472.2 L645.2,470.7 L646,471.5 L646.7,472.2 L647.5,474.1 L648,473.9 L648.6,476.4 L649.1,475.8 L649.7,477.3 L650.2,479.4 L650.8,478.5 L651.3,480.2 L651.6,482.7 L651.9,480.4 L652.2,483.8 L652.5,482.5 L652.8,484.9 L653.1,485.4 L653.4,486.3 L653.7,486.2 L654,488.6 L654.3,489.3 L654.6,488.8 L654.9,491.3 L655.2,491 L655.5,491.4 L655.8,493.9 L656.1,494.6 L656.4,492.2 L656.7,490.1 L657,491.1 L657.2,490.6 L657.5,490.3 L657.8,488.3 L658.1,487 L658.9,488.7 L659.6,487.1 L660.4,490.9 L661.1,489.2 L661.9,490.8 L662.7,491.5 L663.5,492.2 L664.2,493.7 L665,493.1 L665.3,494 L665.6,494.7 L665.9,495.8 L666.3,498.2 L666.6,499.1 L666.9,499.3 L667.2,499.2 L667.4,499.1 L667.7,496.1 L667.9,495.9 L668.1,494 L668.4,496.2 L668.6,492.1 L668.8,491.2 L669,490.7 L669.3,490.3 L669.5,490.1 L670.5,489.1 L671.4,489.6 L672.3,492.9 L673.3,492.4 L674.1,491.3 L674.8,494.8 L675.6,493.9 L675.9,493.5 L676.1,491 L676.4,489.6 L676.6,489.2 L676.9,489.3 L677.2,487.6 L677.4,487.1 L677.7,486.8 L677.9,485.6 L678.2,486.6 L678.4,484.9 L678.7,483.2 L679.2,483.9 L679.7,481.7 L680.1,479 L680.6,479.4 L681.1,479.2 L681.5,476.5 L682,478.2 L682.5,476.4 L683.5,476.9 L684.5,475.3 L685.5,477.2 L686.1,479.3 L686.6,479.3 L687.2,479.3 L687.8,480.2 L688.1,478.2 L688.4,479.9 L688.7,475.9 L689,475.6 L689.3,477.2 L689.6,476.3 L689.9,474.4 L690.2,474.5 L690.5,471.3 L690.8,471.1 L691.6,469 L692.3,471.5 L693.1,470.8 L693.8,468.7 L694.6,468 L695.4,468.7 L696.1,467.3 L696.9,466.1 L697.6,466.3 L698.4,465 L699.4,467.2 L700.3,464.5 L701.2,465.9 L702.2,467.3 L702.5,468 L702.8,468.1 L703,469.9 L703.3,469.3 L703.6,471.2 L703.9,473.7 L704.2,473.2 L704.5,474.4 L704.7,476.3 L705,477.9 L705.3,477.2 L706.3,475.8 L707.3,475.3 L708.3,475.6 L708.6,477.7 L709,478.1 L709.3,476.6 L709.6,477.9 L709.9,479.2 L710.3,480.8 L710.6,481.7 L710.9,482.6 L711.2,484.8 L711.5,486.1 L711.8,487 L712.1,486.3 L712.1,486.4 L712.1,487.3 L712.1,487.7 L712.1,488.7 L712.2,492.2 L712.2,492.3 L712.2,491 L712.2,493.5 L712.2,496 L712.2,493.7 L712.2,497.1 L712.2,498.7 L712.3,496.4 L712.3,498 L712.3,498.2 L712.3,501.1 L712.3,502 L712.3,504.1 L712.3,503.7 L712.3,504 L712.3,505.1 L712.4,507.7 L712.4,505.6 L712.4,507.6 L712.4,507.9 L712.4,509.2 L712.4,512.3 L712.4,510.7 L712.4,514 L712.4,512.3 L712.5,512.7 L712.5,513.6 L712.5,517.7 L712.5,516.9 L712.5,519.5 L712.5,518.5 L712.5,519.9 L712.5,519.4 L712.6,523.1 L712.6,523.4 L712.6,522.3 L712.6,525.3 L712.6,525.1 L713,525.8 L713.5,524.9 L713.9,523 L714.3,523.2 L714.8,522.1 L715.2,519.8 L715.3,519 L715.4,516.3 L715.5,515.6 L715.7,517.6 L715.8,514.1 L715.9,514.1 L716,513 L716.1,511.3 L716.2,513 L716.4,509.6 L716.5,511.1 L716.6,508.7 L716.7,507.6 L717,506.3 L717.4,506 L717.7,503.5 L718,504.5 L718.4,504.2 L718.7,502.7 L719,501.8 L719.4,499.8 L719.7,500 L720,501.9 L720.3,500.8 L720.6,502.1 L720.9,502.7 L721.1,506.4 L721.4,505.9 L721.7,506.2 L722,507.6 L722.2,508.3 L722.4,505.2 L722.6,503.3 L722.8,504.3 L723,503.8 L723.2,503.5 L723.4,499.6 L723.7,499.3 L723.9,501 L724.1,499.2 L724.3,497.4 L724.5,495 L724.7,495.6 L724.9,493.8 L725.1,493.9 L726.2,491.6 L727.3,492.4 L727.7,493.6 L728.2,492.8 L728.6,495.2 L729.1,497.1 L729.5,496.2 L730,499 L730.4,498.5 L731,499.3 L731.7,498.6 L732.3,494.9 L732.9,493.8 L733.6,493.4 L734.2,493.9 L734.5,491.4 L734.7,491.1 L735,491.6 L735.2,490.5 L735.5,490.1 L735.7,490.1 L736,487.2 L736.2,485.5 L736.5,484.4 L736.7,483.4 L737,484.8 L737.2,483.2 L737.4,483.9 L737.7,481.9 L737.9,479.9 L738.1,479.8 L738.4,480.2 L738.6,477.1 L738.8,477.9 L739,476 L739.3,474.3 L739.5,474.1 L739.9,474.7 L740.4,473.8 L740.8,471.5 L741.2,469.5 L741.6,468.1 L742.1,467.7 L742.5,468 L742.7,470.5 L742.8,470.1 L743,471.1 L743.1,472.5 L743.3,472.7 L743.5,474.1 L743.6,473.3 L743.8,477 L743.9,475 L744.1,477.2 L744.5,477.5 L744.9,473.9 L745.4,473.4 L745.8,472.2 L746.2,473.7 L746.6,470.5 L747.1,469.6 L747.5,471.3 L747.9,469.5 L748.3,472 L748.6,472.5 L749,473.7 L749.4,474.3 L749.8,472.3 L750.1,473.1 L750.5,474.6 L750.9,476.4 L751.2,474.4 L751.6,473.1 L751.9,473.7 L752.3,474.4 L752.6,473.4 L753,471.5 L753.3,471 L753.7,468.2 L754,469.9 L754.4,466.4 L754.7,466.5 L755.5,467.9 L756.2,467 L757,468.1 L757.8,469.5 L758.8,471.1 L759.8,472.2 L760.8,471.1 L761.8,469.3 L762.7,471.3 L763.6,472.1 L764.6,470.3 L765.4,471.8 L766.1,472.6 L766.9,474.2 L767.6,473.9 L768.4,474.1 L769.3,474.9 L770.2,473.8 L771.2,471.6 L772.1,473.6 L773,472.6 L773.9,472.7 L774.8,474.5 L775.7,471.5 L776.6,471.8 L777.5,473.4 L778.5,474.8 L779.4,472.7 L780.3,474.4 L781.3,472.6 L781.6,470.9 L781.9,472.3 L782.2,468.3 L782.5,467.4 L782.8,467.8 L783.2,467.7 L783.5,465.8 L783.8,466.9 L784.1,463.6 L784.4,463.5 L784.6,463.9 L784.9,460.8 L785.1,459.6 L785.3,460.9 L785.5,457.9 L785.8,456.4 L786,457.4 L786.2,457.4 L786.5,455.7 L786.7,454.3 L787.6,453.1 L788.5,452.2 L789.4,453.6 L790.6,453.4 L791.8,451.8 L792.9,452.9 L793.7,452.7 L794.4,453 L795.2,450.6 L796,449.8 L796.8,452 L797.5,454.4 L798.3,453.7 L799.2,454.7 L800.2,454.5 L801.1,454 L802.1,455.2 L802.3,457.2 L802.5,456.8 L802.8,457.2 L803,457.2 L803.2,460.6 L803.4,461.4 L803.6,462.2 L803.9,461.4 L804.1,464.9 L804.3,464.3 L805.2,465 L806.2,463.6 L807.1,462.1 L808.1,463.5 L808.6,463.3 L809.1,463.4 L809.7,459.6 L810.2,461.2 L810.7,459.3 L811.2,459 L811.7,459.5 L812.2,460.9 L812.7,462.6 L813.2,462.3 L813.7,461.1 L814.2,463.5 L814.8,463.5 L815.4,462.6 L816.1,461 L816.7,462.1 L817.3,459.7 L818.3,459.8 L819.3,462.2 L820.3,461.3 L820.8,462 L821.4,460 L821.9,459.1 L822.5,457.4 L823,456.3 L823.6,455.3 L824.1,455.2 L825,453.7 L826,454.2 L827,453.5 L827.9,454.4 L828.2,453 L828.4,452.1 L828.7,453.2 L828.9,449.1 L829.2,448.5 L829.4,450.4 L829.7,449.5 L829.9,448.1 L830.2,446.1 L830.7,445.6 L831.2,446.2 L831.7,444.1 L832.2,443.3 L832.7,443.9 L833.2,441.5 L834.2,440.2 L835.3,441.1 L836.3,441.5 L836.6,440.2 L836.8,438 L837.1,439.5 L837.3,439.4 L837.6,437.9 L837.8,435.3 L838.1,434.6 L838.3,432.6 L838.6,433.1 L839.2,432.1 L839.8,432.1 L840.4,429.2 L841,431.3 L841.6,429.3 L841.9,426.8 L842.2,426.5 L842.5,426.6 L842.8,426.9 L843.2,424.7 L843.5,422.2 L843.8,421.3 L844.1,422.2 L844.4,421.5 L844.7,420.2 L845.7,421.1 L846.6,419.3 L847.5,422 L848.5,421.7 L848.8,421.8 L849,418.6 L849.3,417.9 L849.5,419.2 L849.8,416 L850,417.4 L850.3,415.6 L851.5,417.5 L852.6,415.2 L853.8,416.4 L854.8,417.5 L855.8,418.1 L856.8,417.9 L856.9,417.8 L857,416.7 L857.2,415.8 L857.3,413.6 L857.4,413.3 L857.5,413.4 L857.6,413.2 L857.7,411.7 L857.9,411.4 L858,410.1 L858.1,408.2 L858.2,408.1 L858.3,407.6 L858.5,403.7 L858.6,404.6 L858.7,401.9 L858.8,403.7 L858.9,403.3 L859,401.5 L859.2,401.1 L859.3,399.5 L859.4,398.1 L860.6,398.7 L861.7,397.1 L862.9,397.4 L863.2,398.1 L863.5,397 L863.8,396.2 L864,393.8 L864.3,393.8 L864.6,393.2 L864.9,391.1 L865.2,389.8 L865.4,388.3 L865.6,389.6 L865.8,386.1 L866,386.9 L866.2,386 L866.4,382.9 L866.5,385.1 L866.7,383.3 L866.9,381.1 L867.1,382.2 L867.3,378.6 L867.5,379.1 L867.6,379.8 L867.7,377.6 L867.8,375.9 L868,376.9 L868.1,374.5 L868.2,372.8 L868.3,373 L868.4,371.8 L868.5,369.1 L868.7,369.2 L868.8,368.5 L868.9,369.4 L869,366.9 L869.1,367.1 L869.3,363.8 L869.4,364.2 L869.5,363.2 L869.7,363.8 L869.8,362.6 L870,360.3 L870.1,359.3 L870.4,360.1 L870.8,359.6 L871.1,360.5 L871.5,362.1 L871.8,365.7 L872.1,365.2 L872.5,365.1 L872.8,366.9 L873.1,367.1 L873.5,366.8 L873.8,364.2 L874.1,363.8 L874.4,364.2 L874.8,362 L875.1,360.9 L875.3,361.4 L875.4,361.9 L875.6,364.7 L875.7,363.8 L875.9,365.4 L876,367.4 L876.2,365.9 L876.3,366.6 L876.5,369.4 L876.6,369.5 L876.8,370 L876.9,370.9 L877.1,374.3 L877.2,374.6 L877.4,374.5 L878.4,375.3 L879.4,376.1 L880.4,376.1 L880.6,375.6 L880.8,374.1 L881,371.9 L881.1,372.4 L881.3,373 L881.5,372 L881.7,369.9 L881.9,368.5 L882.7,367.9 L883.4,366.2 L884.2,366.2 L884.3,366.9 L884.5,362.8 L884.6,362.7 L884.8,361.2 L884.9,360.9 L885.1,361.4 L885.2,359.8 L885.4,357.7 L885.5,358.3 L885.6,358.7 L885.8,356 L885.9,353.7 L886.1,354.4 L886.2,355.1 L886.4,352.5 L886.5,351.7 L886.7,351.5 L886.9,350 L887.1,349.2 L887.2,348.2 L887.4,348.6 L887.6,346.8 L887.8,343.4 L888,344.1 L888.5,344.5 L888.9,342.2 L889.4,342.4 L889.8,341.1 L890.3,339.6 L890.6,338.6 L890.9,338 L891.2,336.3 L891.5,334.3 L891.7,335 L892,332.2 L892.3,332.1 L892.6,331.9 L893.4,334 L894.1,334.6 L894.9,333.5 L895.1,334.8 L895.4,336.6 L895.6,337.5 L895.9,337.9 L896.1,337.2 L896.4,339.6 L896.8,339.7 L897.2,343 L897.6,341.6 L898,342.5 L898.4,344.1 L898.7,344.1 L898.9,341 L899.2,341.2 L899.4,338.9 L899.7,340.8 L899.9,338.8 L900.2,337.3 L900.6,338 L901,337.1 L901.4,333.2 L901.7,332.8 L902.1,331.2 L902.5,331.9 L902.8,329.5 L903.1,330.2 L903.4,327.6 L903.6,326.5 L903.9,326.2 L904.2,326.6 L904.5,326.9 L904.8,324.3 L905.5,324.8 L906.3,325.2 L907,325.5 L907.8,326.6 L908.1,325.9 L908.5,329.4 L908.8,330 L909.1,329.2 L909.5,332.5 L909.8,332.9 L910.2,333.8 L910.5,333.5 L910.8,331.3 L911,331.5 L911.3,329.7 L911.6,329.7 L911.9,329.8 L912.1,329.9 L912.4,327.4 L913.1,328.1 L913.9,326.6 L914.6,323.5 L915.4,324.3 L916.2,323.2 L916.9,324.9 L917.7,325.9 L918.1,325.2 L918.5,323.5 L918.9,323.4 L919.2,323.1 L919.6,323 L920,320.5 L921.1,320.7 L922.2,321.3 L922.5,321.8 L922.9,321.9 L923.2,324.8 L923.5,323.2 L923.8,324.1 L924.2,328.1 L924.5,327.4 L924.7,329.9 L924.9,329 L925.1,328.5 L925.3,332.6 L925.5,333.5 L925.8,332.4 L926,332.4 L926.2,336.1 L926.4,335.2 L926.6,337 L926.8,337.3 L927.1,335.9 L927.3,336.7 L927.6,332.9 L927.8,333.8 L928.1,334.2 L928.3,330.8 L928.6,329.2 L928.8,330.3 L929.1,328.9 L930.1,329.2 L931.1,326.8 L932.1,328.1 L932.9,326.2 L933.6,327.3 L934.4,325.9 L934.6,326.7 L934.8,326.1 L935,328.1 L935.2,330.1 L935.4,330.5 L935.5,331.5 L935.7,331.5 L935.9,331.4 L936.1,333.5 L936.3,334.6 L936.5,335 L936.7,336.5 L936.9,338.2 L937,339.9 L937.2,340.3 L937.3,341.7 L937.5,339.4 L937.6,342.4 L937.8,341.9 L937.9,343.7 L938.1,343.5 L938.2,345.6 L938.3,345.2 L938.5,349.1 L938.6,350.1 L938.7,349.7 L938.8,349.7 L939,352.8 L939.1,352.4 L939.2,354.2 L939.3,355.8 L939.5,354.8 L939.6,356.6 L939.7,357.1 L939.9,359.6 L940.1,360.1 L940.3,358.8 L940.5,359.2 L940.8,360.4 L941,363.8 L941.2,362.5 L941.4,363.7 L941.6,365.4 L941.8,364.1 L942.1,365.1 L942.3,364.2 L942.5,361.7 L942.8,362.2 L943,359.8 L943.3,359.4 L943.5,357.8 L943.8,358.5 L944.2,361 L944.5,360.5 L944.8,362.9 L945.1,361.3 L945.5,364.6 L945.8,363.9 L946,361.3 L946.2,360.4 L946.4,360.8 L946.6,360.2 L946.8,359.5 L947,358.7 L947.2,357.6 L947.4,356.3 L947.6,357.6 L947.8,358.2 L948,360.7 L948.2,359.6 L948.4,360.2 L948.6,360.3 L948.9,364.1 L949.1,365.4 L949.3,366.1 L949.5,365.9 L949.7,366.7 L949.9,367.8 L950.1,368.5 L950.3,365.9 L950.5,365.7 L950.8,365 L951,365.7 L951.2,365.2 L951.5,361.3 L951.7,363.4 L951.9,360.9 L952.1,360.8 L952.4,357.4 L952.6,358.6 L952.8,358.3 L953,355.6 L953.2,355.6 L953.5,352.6 L953.7,353.2 L954,354.4 L954.2,354.9 L954.5,356.9 L954.7,358.1 L955,358.2 L955.2,357.4 L955.5,360.2 L955.7,360.9 L955.8,361.6 L955.9,361.7 L956,363.6 L956.2,365.6 L956.3,365.7 L956.4,366.4 L956.5,369 L956.6,367.1 L956.7,368.7 L956.9,371.8 L957,372.7 L957.1,373.5 L957.2,373 L958,374.1 L958.7,373.6 L959.5,371.5 L959.7,369 L960,370.7 L960.2,370.4 L960.4,367.2 L960.6,367.8 L960.9,364.4 L961.1,363.9 L961.3,365.4 L961.6,363.3 L961.8,362.4 L962.5,361.9 L963.3,365.5 L964,363.9 L964.8,365.4 L965.8,366.6 L966.9,366 L967.9,366.9 L968.2,366.2 L968.6,368.7 L968.9,369 L969.2,372 L969.5,369.9 L969.9,372.1 L970.2,373 L970.6,373.8 L971,376.4 L971.4,374.9 L971.7,377.3 L972.1,379 L972.5,378.4 L972.7,377.9 L972.8,376.2 L973,374.9 L973.2,375.3 L973.3,373.3 L973.5,373.1 L973.7,372.1 L973.8,371.3 L974,370 L974.2,368.2 L974.3,369.8 L974.5,368.1 L974.6,366.4 L974.8,366.7 L974.9,363.5 L975.1,363.1 L975.2,363.8 L975.4,360.8 L975.5,359.5 L975.7,358.4 L975.8,357.4 L976,357.4 L976.1,357 L976.3,356.3 L976.5,356.1 L976.8,352.7 L977,354 L977.3,350.7 L977.5,351.5 L977.8,350.2 L978,352.8 L978.3,350.6 L978.5,354.9 L978.8,353.6 L979,354.6 L979.3,356.3 L979.5,354.1 L979.7,354.8 L979.9,355.2 L980.1,351.1 L980.3,350.2 L980.5,351.2 L980.6,351.7 L980.8,349.8 L981,349.9 L981.2,345.8 L981.4,347.5 L981.6,345.6 L982.2,343.8 L982.8,342.9 L983.3,343.1 L983.9,341.8 L984.9,341.2 L985.9,342.1 L986.9,342.6 L987.4,340.1 L987.9,340.7 L988.4,338.4 L988.9,340.7 L989.4,339.8 L989.9,337.3 L990.8,337.8 L991.7,336.6 L992.7,340.3 L993.6,338.7 L994.5,339.6 L995,339 L995.5,336.2 L996,338.4 L996.6,335.4 L997.1,334.8 L997.6,334.2 L997.8,335 L998,335.4 L998.2,337.3 L998.4,339.4 L998.6,338.8 L998.8,340.2 L999,340.8 L999.2,342.4 L999.4,342.1 L999.6,342 L999.8,344.1 L1000.3,345 L1000.8,344.2 L1001.3,342.5 L1001.9,340.6 L1002.4,340.4 L1002.9,339.6 L1003.2,341.5 L1003.6,342 L1003.9,341.3 L1004.2,341.6 L1004.5,343.7 L1004.9,345.2 L1005.2,345.6 L1005.3,346.4 L1005.4,346.5 L1005.5,347.2 L1005.6,350 L1005.7,348.9 L1005.8,350.1 L1005.9,352.5 L1006.5,352.4 L1007,349 L1007.6,349.4 L1008.2,348.7 L1008.7,351.3 L1009.2,349.6 L1009.7,351.7 L1009.8,349.1 L1010,348.2 L1010.1,350.4 L1010.2,346.2 L1010.4,347.2 L1010.5,344.3 L1010.7,345.3 L1010.8,344.2 L1010.9,344 L1011.1,340.5 L1011.2,341.1 L1011.4,339.7 L1011.6,337.7 L1011.8,338.3 L1012,338.5 L1012.2,335.5 L1012.4,337 L1012.5,335.5 L1012.7,335.4 L1012.9,334.7 L1013.1,331.9 L1013.3,332.9 L1013.5,330.4 L1014,329.4 L1014.5,327.4 L1015,329.1 L1015.6,326.5 L1016.1,325 L1016.6,325.9 L1017,325.7 L1017.5,324.9 L1017.9,324.9 L1018.3,323.4 L1018.7,321.8 L1019.2,319.1 L1019.6,319.8 L1020.2,319.2 L1020.8,319.9 L1021.3,315.9 L1021.9,316.7 L1022.3,318.8 L1022.7,319.9 L1023,319.3 L1023.4,320.9 L1023.8,321 L1024.2,322.1 L1025,319.9 L1025.7,319.3 L1026.5,320.9 L1027.2,318.9 L1028,319 L1028.5,319.2 L1029,318.8 L1029.5,317.5 L1030,315.3 L1030.5,313.4 L1031,313.7 L1031.4,313.4 L1031.9,317 L1032.3,316.7 L1032.8,318.8 L1033.2,319.7 L1033.7,320.3 L1034.1,319.8 L1034.6,320.8 L1035,320 L1035.5,321.9 L1035.9,324 L1036.4,324.3 L1037.2,325.9 L1037.9,327.1 L1038.7,324.7 L1039.4,326.6 L1040.4,327.2 L1041.4,326.2 L1042.4,327.4 L1042.7,328.1 L1043,330.2 L1043.3,328.6 L1043.6,332.1 L1043.8,333.1 L1044.1,334.3 L1044.4,335.2 L1044.7,335 L1045.3,334.9 L1045.9,336.8 L1046.6,338.9 L1047.2,337.8 L1047.8,338.8 L1048.5,338.2 L1049.3,341.7 L1050,340.7 L1050.8,341.8 L1051.3,340.5 L1051.8,338.5 L1052.2,339.1 L1052.7,338 L1053.2,338.9 L1053.6,335.5 L1054.1,334.2 L1054.6,335 L1055.1,336.6 L1055.6,336.2 L1056.2,336 L1056.7,340.1 L1057.2,339.9 L1057.7,340.3 L1058.5,341.4 L1059.2,342.9 L1060,343.1 L1060.7,343.4 L1061,345.1 L1061.4,346.5 L1061.7,345.3 L1062,347.4 L1062.3,346.7 L1062.7,348.2 L1063,350.2 L1064,349.3 L1064.9,349.8 L1065.8,350 L1066.8,347.9 L1067,348.6 L1067.2,350.3 L1067.4,350.9 L1067.6,351.3 L1067.8,350.9 L1068.1,354.9 L1068.3,353.3 L1068.5,356.7 L1068.7,357.2 L1068.9,358.5 L1069.1,357.8 L1069.2,357.7 L1069.3,361 L1069.4,359.3 L1069.6,363.5 L1069.7,361.7 L1069.8,363.9 L1070.4,362.1 L1071,362.9 L1071.7,362.2 L1072.3,360.9 L1072.9,360.1 L1073.9,359.4 L1074.9,359.9 L1075.9,359.3 L1076.1,359.4 L1076.2,358.6 L1076.4,356.4 L1076.6,357.2 L1076.7,355.4 L1076.9,355.4 L1077.1,351.4 L1077.2,351.7 L1077.4,351.9 L1077.5,348.5 L1077.7,349.4 L1077.9,347.8 L1078,346.4 L1078.2,346.4 L1079.1,347.8 L1080.1,348.5 L1081.2,348.4 L1082.2,346.3 L1082.5,346.1 L1082.8,346.7 L1083.1,350.7 L1083.3,350.7 L1083.6,351 L1083.9,352.6 L1084.2,352.8 L1084.5,353.9 L1084.8,355.2 L1085.1,355.7 L1085.5,357.3 L1085.8,356.5 L1086.1,359.6 L1086.4,359.2 L1086.9,357 L1087.4,359.3 L1088,358.1 L1088.5,357.8 L1089,355.4 L1089.1,356.1 L1089.2,354.9 L1089.4,351.5 L1089.5,352.2 L1089.6,351.1 L1089.7,350 L1089.9,349.9 L1090,348 L1090.1,347.1 L1090.3,347.1 L1090.5,348.4 L1090.8,350.1 L1091,351.5 L1091.2,350.6 L1091.4,354.2 L1091.7,353.9 L1091.9,353.9 L1092.1,355.4 L1092.5,353 L1092.9,353.7 L1093.2,351.5 L1093.6,352.7 L1094,350.9 L1094.3,350.1 L1094.7,351 L1095,353.9 L1095.3,353.8 L1095.6,356.8 L1095.9,355.7 L1096.3,356.5 L1096.6,357.7 L1097.1,355.2 L1097.6,354.4 L1098.2,356.6 L1098.7,353.5 L1099.2,351.7 L1099.7,352.4 L1100,352.5 L1100.4,352.3 L1100.7,351.5 L1101,350.6 L1101.4,348.8 L1101.7,345.7 L1102,347.3 L1102.4,347.2 L1102.7,344.8 L1103.3,342.4 L1103.8,344.5 L1104.4,341.4 L1105,341 L1105.8,342.2 L1106.5,342.2 L1107.2,341 L1108,343.2 L1108.3,344.4 L1108.6,346.6 L1108.9,344.4 L1109.2,346.9 L1109.5,346.2 L1109.9,349 L1110.2,350.6 L1110.5,350.6 L1110.8,350.2 L1111.1,352.4 L1112,354.2 L1113,353.7 L1114,351.3 L1114.9,353.1 L1115.7,351.6 L1116.4,351.1 L1117.2,351.6 L1117.7,352.5 L1118.2,354.7 L1118.7,353.6 L1119.2,353.1 L1119.7,354.5 L1120.2,356.2 L1121.2,356.8 L1122.2,355.7 L1123.2,355.4 L1123.4,354.7 L1123.6,358.8 L1123.8,359.7 L1124,359.9 L1124.2,358.7 L1124.3,359.9 L1124.5,361.5 L1124.7,360.9 L1124.9,363.5 L1125.1,364.1 L1125.3,366.1 L1125.5,366.1 L1125.6,366.1 L1125.8,368.9 L1125.9,367.6 L1126.1,370.3 L1126.2,370.5 L1126.4,370.3 L1126.5,372.8 L1126.7,372.7 L1126.8,376.4 L1127,376.8 L1127.1,376.7 L1127.8,378.7 L1128.6,379.5 L1129.3,378.7 L1130.1,379 L1131,378.6 L1132,380.2 L1133,379.7 L1133.9,378.2 L1134.4,378.2 L1134.9,375.9 L1135.4,375.7 L1135.9,374.5 L1136.4,376.1 L1136.9,373.7 L1137.5,373 L1138.1,375 L1138.6,378.2 L1139.2,377.5 L1139.8,377.4 L1140.3,374.3 L1140.9,375.4 L1141.5,374.4 L1141.8,376.9 L1142,376.8 L1142.3,378.8 L1142.5,378.6 L1142.8,378.1 L1143,380.6 L1143.3,381.8 L1143.5,382.5 L1143.8,382.8 L1143.8,384 L1143.9,383.9 L1143.9,384 L1144,388.1 L1144,386.7 L1144,390 L1144.1,390.2 L1144.1,391.1 L1144.2,390.8 L1144.2,392.4 L1144.2,394 L1144.3,395.5 L1144.3,394.8 L1144.3,395.8 L1144.4,396.7 L1144.4,398.7 L1144.5,397 L1144.5,399.5 L1144.7,401.4 L1144.9,399.8 L1145,403.4 L1145.2,404.5 L1145.4,402.6 L1145.6,403.5 L1145.7,406.9 L1145.9,406.6 L1146.1,409.4 L1146.3,410.1 L1146.4,410.6 L1146.6,412.4 L1146.8,411.7 L1147.2,410.7 L1147.6,409.5 L1148,410.6 L1148.3,408.4 L1148.7,409 L1149.1,406.8 L1149.5,404.6 L1149.9,404.9 L1150.4,407.4 L1150.9,406.4 L1151.3,407.4 L1151.8,407.5 L1152.3,410.8 L1152.8,411.5 L1153.2,412.4 L1153.7,411.7 L1154.2,410.5 L1154.7,409.9 L1155.1,410.2 L1155.6,408.8 L1156.1,406.8 L1156.5,405.8 L1157,405.7 L1157.5,404.9 L1157.8,406.8 L1158.2,408.2 L1158.5,409 L1158.8,407.2 L1159.1,408.5 L1159.5,410.7 L1159.8,410.9 L1160,410.6 L1160.3,409.5 L1160.5,408.1 L1160.7,407.9 L1161,406.3 L1161.2,406.4 L1161.4,403.7 L1161.6,402.3 L1161.9,403.8 L1162.1,401.9 L1162.3,402.5 L1162.6,398.8 L1162.8,399.5 L1163.3,401.9 L1163.8,399.7 L1164.3,402.7 L1164.8,401 L1165.3,404.9 L1165.8,404.1 L1166.1,404 L1166.5,404 L1166.8,400 L1167.2,399.7 L1167.5,398.7 L1167.9,397.8 L1168.2,399.4 L1168.6,396.2 L1168.9,396.5 L1169.9,397.9 L1170.9,398.6 L1171.9,398 L1172.7,395.8 L1173.5,395.2 L1174.2,397.1 L1175,395.7 L1175.8,396.8 L1176.5,395.4 L1177.3,394.2 L1177.5,393.8 L1177.7,396.1 L1177.9,397.9 L1178.1,397.7 L1178.3,399.2 L1178.5,401.2 L1178.7,400.5 L1178.9,400.3 L1179.1,401.9 L1179.3,401.6 L1179.5,404.1 L1180.5,403.8 L1181.4,404.5 L1182.3,405.6 L1183.3,406.4 L1183.8,408.9 L1184.2,406.6 L1184.7,410.7 L1185.1,408.4 L1185.6,410.9 L1186.4,413.1 L1187.1,412 L1187.9,413.1 L1188.6,415 L1189.4,414 L1189.6,414.5 L1189.8,410.5 L1190,412.2 L1190.2,409.6 L1190.4,409.9 L1190.6,407.1 L1190.7,408.9 L1190.9,404.9 L1191.1,405.1 L1191.3,403 L1191.5,403.6 L1191.7,402.6 L1192,404 L1192.2,403.9 L1192.5,405.2 L1192.7,406.7 L1193,408.1 L1193.2,407.3 L1193.5,409.1 L1193.7,409.7 L1194,410.9 L1194.6,411.7 L1195.3,411.8 L1195.9,412.5 L1196.5,415.1 L1197.2,413.1 L1197.8,415.5 L1198.4,414 L1199,415.6 L1199.6,412.1 L1200.2,410.9 L1200.8,411.7 L1201.8,409.6 L1202.9,409.7 L1203.9,410.2 L1204.7,411.8 L1205.4,413.2 L1206.2,413.1 L1206.9,413.2 L1207.8,413.4 L1208.7,412.7 L1209.7,411.6 L1210.6,412.8 L1211.5,413.2 L1212.2,411.4 L1213,412 L1213.8,412.6 L1214.5,410.2 L1215.1,408.4 L1215.7,409.7 L1216.2,408.2 L1216.8,407.1 L1217.8,405.5 L1218.7,406.8 L1219.6,405.9 L1220.6,406.4 L1220.7,406.2 L1220.9,408.2 L1221,410.1 L1221.1,408.4 L1221.3,412.3 L1221.4,410.8 L1221.6,412.5 L1221.7,412.8 L1221.8,414.7 L1222,415.9 L1222.1,416.3 L1222.2,418.8 L1222.2,419.8 L1222.3,417.5 L1222.3,421.6 L1222.4,419.8 L1222.5,421.8 L1222.5,423.2 L1222.6,425.3 L1222.7,423.1 L1222.7,426.4 L1222.8,427.1 L1222.8,427.1 L1222.9,428.4 L1223.5,429.2 L1224.1,426.8 L1224.7,426.9 L1225.3,426.2 L1225.9,424.6 L1226.5,425.1 L1227.1,427.4 L1227.8,425.3 L1228.4,426.5 L1229,428.4 L1229.8,428.5 L1230.5,428.3 L1231.3,427.4 L1232,426.1 L1232.8,425.4 L1233.5,423.8 L1234.3,425.8 L1235,425.2 L1235.8,423.1 L1236.9,423.7 L1238.1,423.9 L1238.8,422.2 L1239.4,421.9 L1240,420.2 L1240.7,420.8 L1241.2,420.6 L1241.8,423.3 L1242.3,424.1 L1242.9,426.1 L1243.4,425.4 L1244.4,423.4 L1245.5,423.1 L1246.5,423.9 L1247.5,425.7 L1248.4,423.1 L1249.3,425.4 L1250.3,424.6 L1251.2,424.6 L1252.2,424.2 L1253.1,423.7 L1254.1,423.1 L1254.4,423.7 L1254.8,422.5 L1255.1,419.4 L1255.4,418.2 L1255.7,418.6 L1256.1,417.1 L1256.4,416.3 L1256.6,413.8 L1256.7,414.5 L1256.9,415.1 L1257,411.2 L1257.2,410.7 L1257.3,409.2 L1257.5,410.2 L1257.6,408.4 L1257.8,406.6 L1257.9,407.1 L1258.5,406.6 L1259.1,406.8 L1259.6,402.6 L1260.2,403.3 L1260.7,404 L1261.1,400.4 L1261.6,400.8 L1262,400.7 L1262.5,398.8 L1263.5,397.9 L1264.4,397.5 L1265.3,398.7 L1266.3,396.5 L1267,397.9 L1267.8,397.6 L1268.5,400.4 L1269.3,399.5 L1269.9,401.3 L1270.4,401.1 L1271,402 L1271.6,403.3 L1271.9,400.8 L1272.1,400.8 L1272.4,398.9 L1272.6,400.4 L1272.9,397.1 L1273.1,397.9 L1273.4,398.4 L1273.6,396.7 L1273.9,395 L1274.8,395.8 L1275.7,395.6 L1276.6,393.5 L1277.1,393 L1277.6,394.6 L1278.2,396.5 L1278.7,398 L1279.2,397.3 L1280.2,398.6 L1281.2,398.4 L1282.2,396.5 L1282.5,395.8 L1282.9,396.7 L1283.2,400.7 L1283.5,398.4 L1283.8,401.1 L1284.2,403.3 L1284.5,402.6 L1284.8,405 L1285,404.9 L1285.2,407.2 L1285.5,406.3 L1285.8,409.3 L1286,408.7 L1286.1,409.4 L1286.2,407.1 L1286.4,407.5 L1286.5,404 L1286.6,405.3 L1286.7,402.1 L1286.9,400.5 L1287,401.5 L1287.1,400.5 L1287.2,399.9 L1287.4,398.6 L1287.5,396.6 L1287.6,396.5 L1287.8,397 L1288,393.3 L1288.3,395.2 L1288.5,391.3 L1288.7,390.3 L1288.9,390.3 L1289.1,389.7 L1289.4,387.6 L1289.6,389.1 L1289.8,387.4 L1290.3,387 L1290.7,384 L1291.2,386 L1291.6,382.9 L1292.1,382.8 L1293.1,384.1 L1294.2,382.3 L1295.2,383.6 L1296.2,382.9 L1297.2,382.7 L1298.2,382 L1299.2,381.8 L1300.1,381.4 L1301,383.1 L1302,381.3 L1302.5,379.2 L1302.9,379.4 L1303.4,380.1 L1303.8,378.4 L1304.3,376.7 L1305.4,376.9 L1306.6,377.5 L1306.9,376.8 L1307.3,379.3 L1307.6,379.7 L1307.9,381.9 L1308.2,382 L1308.6,382 L1308.9,383.6 L1309.7,381.4 L1310.4,382.2 L1311.2,381.8 L1311.9,381.3 L1312.9,381.9 L1313.9,381.3 L1314.9,380.5 L1315.4,381 L1316,382.5 L1316.5,384.4 L1317.1,382.3 L1317.6,385.9 L1318.2,385.9 L1318.7,385.8 L1319.7,384.8 L1320.6,384.2 L1321.5,385.2 L1322.5,385.8 L1323.4,385.8 L1324.3,385.5 L1325.3,383.9 L1326.2,384.4 L1327.1,384.3 L1327.9,385.5 L1328.6,385.5 L1329.4,386.5 L1330.2,386 L1330.9,386.7 L1331.7,387.4 L1332.5,389.6 L1333.2,387.1 L1334,388.7 L1334.7,390.3 L1335.5,389 L1336.2,391.2 L1336.7,388.7 L1337.2,388.6 L1337.8,387.4 L1338.3,386.6 L1338.8,385.6 L1339.3,385.8 L1339.5,385.1 L1339.7,383.8 L1339.9,384 L1340,381.4 L1340.2,381.7 L1340.4,379.2 L1340.6,378.7 L1340.8,378.2 L1341.5,377.1 L1342.3,375.7 L1343,377.3 L1343.8,376 L1344.7,375.3 L1345.6,377.5 L1346.6,378 L1347.5,377.4 L1348.4,376.7 L1349.4,376.4 L1350.3,373.9 L1351.2,374.6 L1352.2,374.4 L1353,373.8 L1353.8,374.3 L1354.5,375.2 L1355.3,377.5 L1356.2,377.6 L1357.2,378.1 L1358.1,379 L1359.1,379 L1360,379.4 L1360.9,379.1 L1361.8,377.2 L1362.7,377.1 L1363.6,378.2 L1364.5,379 L1365.5,380.1 L1366.5,380.2 L1367.4,379.8 L1367.6,379.1 L1367.8,380 L1368.1,381 L1368.3,385.1 L1368.5,383.5 L1368.7,385.9 L1369,387.2 L1369.2,387.1 L1369.4,388.1 L1370.6,387.6 L1371.5,387.7 L1372.4,386.7 L1373.4,386.7 L1374.3,385.4 L1375.2,386.8 L1376.2,387.6 L1377.1,387.3 L1378,389.5 L1379,388.3 L1380,389.1 L1380.9,390.1 L1381.8,390.3 L1382.8,390.6 L1383.4,390.8 L1384.1,390.7 L1384.7,390 L1385.3,389 L1386,385.7 L1386.6,386.1 L1387.5,384.9 L1388.5,385.6 L1389.5,387.2 L1390.4,387.6 L1391.2,386.1 L1391.9,385.5 L1392.7,386.2 L1393.5,385 L1394.2,385.5 L1395,383.8 L1395.9,383.5 L1396.8,385.6 L1397.8,383.6 L1398.7,385.8 L1399.6,386.1 L1400.1,385.3 L1400.6,386.2 L1401.1,385.3 L1401.6,381.9 L1402.1,383.9 L1402.6,381.5 L1402.8,379.9 L1403.1,378.1 L1403.3,379 L1403.5,377.8 L1403.8,378.6 L1404,377.6 L1404.2,374.9 L1404.4,372.6 L1404.7,374.9 L1404.9,372.4 L1405,372.2 L1405.1,370.2 L1405.2,368.2 L1405.4,369.1 L1405.5,367.8 L1405.6,367 L1406.5,365.2 L1407.4,367.7 L1408.4,364.1 L1409.3,366.7 L1410.2,364.8 L1411,364.6 L1411.7,365.1 L1412.5,361.6 L1413.3,360.6 L1414,363.1 L1414.8,360.9 L1415.7,360.8 L1416.6,362.6 L1417.5,363 L1418.4,363.1 L1419.3,361.7 L1420.1,362.2 L1420.8,361.9 L1421.6,360.8 L1422.4,361.3 L1423.1,358 L1423.9,358.7 L1424.2,357.7 L1424.6,356.2 L1424.9,357.8 L1425.2,354.2 L1425.6,354.1 L1425.9,352.1 L1426.2,352.7 L1426.6,353.5 L1426.9,351.1 L1427.2,348.7 L1427.5,348.8 L1427.9,349.1 L1428.2,346.2 L1428.5,346.5 L1429.1,345.7 L1429.7,346.4 L1430.3,349.5 L1430.9,350.7 L1431.5,350.3 L1432.4,351.4 L1433.3,349.9 L1434.3,350.5 L1435.2,349.4 L1436.1,348 L1437,348.4 L1438,348.5 L1439,348.4 L1439.9,348.8 L1440.7,346.4 L1441.4,345.7 L1442.2,346.1 L1442.9,346 L1443.7,345 L1444.4,344.7 L1445.1,341.8 L1445.7,342 L1446.4,341.9 L1446.7,341.8 L1447.1,344.6 L1447.4,344.3 L1447.7,346.4 L1448,345.4 L1448.3,346.5 L1448.7,350.2 L1449,349.5 L1449.6,349.6 L1450.3,350.4 L1450.9,351.1 L1451.5,353.5 L1452.2,354.6 L1452.8,354.1 L1453.3,353.5 L1453.8,352.7 L1454.3,351.5 L1454.8,351.2 L1455.3,350.9 L1455.8,349.5 L1456.7,347.6 L1457.6,348.2 L1458.6,348 L1459.5,348.1 L1460.4,348 L1460.7,345.4 L1461,344.9 L1461.3,346.2 L1461.6,343.4 L1461.8,341.6 L1462.1,343.1 L1462.4,342.2 L1462.7,340.4 L1463,341 L1463.4,337.5 L1463.7,335.9 L1464,338.1 L1464.3,336.3 L1464.7,334.2 L1465,333.6 L1466,331.5 L1467,332.2 L1468,332 L1469,331.9 L1469.9,331.8 L1470.8,333.4 L1471.8,332.8 L1471.9,331.2 L1472,332 L1472.1,329.2 L1472.2,328.9 L1472.3,327.2 L1472.4,326.5 L1472.5,328 L1472.6,323.9 L1472.7,325.4 L1472.8,324.2 L1472.9,322.2 L1473,321 L1473.1,321.7 L1473.2,319 L1473.3,319.1 L1473.6,318 L1474,317.6 L1474.3,315.6 L1474.6,313.6 L1474.9,313.8 L1475.3,312.3 L1475.6,312.3 L1476.2,310.6 L1476.8,309.9 L1477.5,308.4 L1478.1,308.3 L1478.7,308.5 L1479.1,310.5 L1479.6,308.7 L1480,310.4 L1480.5,310.5 L1480.9,313 L1481.2,312.3 L1481.6,315.7 L1481.9,314.2 L1482.2,315.7 L1482.6,317.6 L1482.9,318.4 L1483.2,318.7 L1483.6,316.1 L1483.9,317.1 L1484.2,315.4 L1484.5,312.5 L1484.8,314.8 L1485.2,312.7 L1485.5,311.5 L1486.3,309.5 L1487,311.6 L1487.8,308.6 L1488.6,308.5 L1489,307.8 L1489.3,311.9 L1489.7,310.6 L1490.1,311.3 L1490.4,313.6 L1490.8,313.8 L1491.3,313 L1491.8,311.8 L1492.3,312.8 L1492.9,311.9 L1493.4,308.6 L1493.9,308.5 L1494.2,307.8 L1494.6,309.2 L1494.9,312.7 L1495.2,310.3 L1495.5,313.3 L1495.9,315 L1496.2,314.5 L1496.8,315.9 L1497.3,318.1 L1497.9,319 L1498.4,318.4 L1498.9,317.9 L1499.4,318.2 L1500,316.2 L1500.5,316.4 L1501,315.2 L1501.5,313 L1502.1,312.2 L1502.7,314.7 L1503.2,315.8 L1503.8,316.1 L1504,317.2 L1504.2,318.7 L1504.4,319.8 L1504.5,319.7 L1504.7,322 L1504.9,320.2 L1505.1,321.5 L1505.3,323.7 L1505.6,321.2 L1506,321.5 L1506.3,319.5 L1506.6,320.8 L1506.9,318.6 L1507.3,316.9 L1507.6,317.6 L1508.6,316.5 L1509.6,320.2 L1510.6,319.1 L1511,319.3 L1511.4,317.6 L1511.8,315.6 L1512.2,314.8 L1512.5,316.5 L1512.9,314.9 L1513.3,314.4 L1513.7,312.3 L1514.3,310.7 L1514.9,311.2 L1515.5,308.4 L1516.1,307.7 L1516.7,308.5 L1517.6,310.4 L1518.5,308 L1519.5,311 L1520.4,311.3 L1521.3,310 L1522.2,309.5 L1523.2,309.9 L1524.1,308.3 L1525.1,309.2 L1525.9,308.5 L1526.6,312 L1527.4,310.4 L1528.1,311.9 L1528.9,312.3 L1529.7,311.5 L1530.4,315 L1531.2,315.2 L1531.9,316.2 L1532.7,316.1 L1533.3,315.7 L1533.8,316.6 L1534.4,319.1 L1535,319.9 L1536.1,318.7 L1537.2,319.1 L1537.5,319.1 L1537.9,320.6 L1538.2,323.3 L1538.5,323.9 L1538.8,325.1 L1539.2,323.7 L1539.5,325.2 L1540.3,325.4 L1541,326.2 L1541.8,326.7 L1542.1,327.4 L1542.5,325.4 L1542.8,322.6 L1543.1,321.7 L1543.4,321.4 L1543.8,319.9 L1544.1,320.6 L1544.4,318.8 L1544.7,317.1 L1545,317.8 L1545.2,317.4 L1545.5,314.3 L1545.8,315.4 L1546.1,315.6 L1546.4,313 L1547.4,313.4 L1548.3,313.5 L1549.2,311.7 L1550.2,312.3 L1551,314.3 L1551.7,314.5 L1552.5,315.6 L1553.2,314.5 L1553.5,315.9 L1553.8,314.9 L1554.1,317 L1554.3,319.5 L1554.6,319.7 L1554.9,320 L1555.2,322.8 L1555.5,322.2 L1555.6,323.5 L1555.7,324.6 L1555.8,324.2 L1556,324.5 L1556.1,328.7 L1556.2,329.2 L1556.3,329 L1556.5,329.3 L1556.7,326.9 L1556.9,324.5 L1557.2,326.1 L1557.4,325.3 L1557.6,323.7 L1557.8,322.2 L1558.8,321.9 L1559.8,324.7 L1560.8,323.7 L1561.3,321.5 L1561.8,320.6 L1562.3,322.1 L1562.9,319 L1563.4,321 L1563.9,319.1 L1564.9,319.7 L1565.9,318.1 L1566.9,318.4 L1567.4,319.3 L1567.9,321.1 L1568.4,321.6 L1568.9,320.9 L1569.4,321.2 L1569.9,322.9 L1570.3,325.3 L1570.8,324.6 L1571.2,327.1 L1571.7,326.1 L1572.1,328.9 L1572.6,329.3 L1573,329 L1573.5,327.6 L1574,327.3 L1574.5,324.8 L1575,326.6 L1575.5,323 L1576,323.7 L1576.4,324.4 L1576.9,321.8 L1577.3,319.9 L1577.8,318.6 L1578.2,320.7 L1578.7,317.9 L1579.1,317.6 L1579.8,316.3 L1580.6,315.3 L1581.3,315.8 L1582.1,314.5 L1582.8,315.1 L1583.4,317.4 L1584.1,315.8 L1584.7,318.7 L1585.4,316.2 L1586,317.9 L1586.7,319.1 L1587.7,318.8 L1588.6,318.9 L1589.5,319 L1590.5,319.9 L1591,317.4 L1591.4,317.6 L1591.9,316.8 L1592.3,314.6 L1592.8,315.3 L1593.4,314.4 L1594,313.2 L1594.6,314.3 L1595.2,312.7 L1595.8,311.5 L1596.8,311 L1597.7,309.5 L1598.6,311.6 L1599.6,310.7 L1600.5,311.8 L1601.5,311.7 L1602.5,312.3 L1603.4,310.7 L1603.6,309.4 L1603.7,308.3 L1603.9,308.9 L1604.1,306.3 L1604.2,307.5 L1604.4,304.4 L1604.5,305.8 L1604.7,302 L1604.9,301.1 L1605,302.2 L1605.2,300.9 L1605.4,299.1 L1605.5,300.7 L1605.7,298.5 L1605.9,296.6 L1606,296.8 L1606.2,294.1 L1606.4,294.7 L1606.5,292.7 L1606.7,292.1 L1606.9,291.7 L1607,291.4 L1607.2,290.2 L1607.8,290.5 L1608.4,289.9 L1609.1,289.5 L1609.7,288.8 L1610.3,286.4 L1611.2,287.8 L1612.1,287.7 L1613,286.5 L1613.9,284.3 L1614.8,285.6 L1615.6,283.4 L1616.3,284.6 L1617.1,283.4 L1618,282.4 L1618.9,283.4 L1619.9,281.1 L1620.8,282.6 L1621.7,281.1 L1622.5,281.1 L1623.2,278.3 L1624,280.8 L1624.7,277 L1625.5,278 L1626,278.4 L1626.5,281.1 L1627,279.8 L1627.5,281.6 L1628,282 L1628.5,282.6 L1629.3,282.8 L1630,283.1 L1630.8,286 L1631.5,286.4 L1632.3,285.6 L1633.1,284.6 L1633.8,285.7 L1634.6,282.5 L1635.4,282.6 L1636.2,284.6 L1636.9,283 L1637.7,285.1 L1638.4,285.6 L1639.2,283.2 L1640,282.5 L1640.7,281.8 L1641.5,282.6 L1641.9,282 L1642.4,282.3 L1642.8,280 L1643.3,279.1 L1643.7,278 L1644.7,275.9 L1645.8,277.3 L1646.8,276.5 L1647.6,278.9 L1648.3,277 L1649.1,277.2 L1649.8,278 L1650.6,280.3 L1651.5,280.9 L1652.4,280.6 L1653.3,283.3 L1654.2,283.7 L1655.1,282.6 L1656.2,283.1 L1657.2,283.3 L1658.3,281.8 L1659.4,281.8 L1660.6,282.2 L1660.8,281.7 L1661.1,283.7 L1661.3,284.4 L1661.5,285 L1661.8,287.2 L1662,287.4 L1662.2,287.7 L1662.4,291.1 L1662.7,290.2 L1662.9,291.3 L1663.9,291.6 L1665,289.4 L1666,289.8 L1666.5,292.3 L1666.9,290.9 L1667.4,294.1 L1667.8,292.7 L1668.3,294.3 L1668.5,295.8 L1668.8,294.8 L1669,296.5 L1669.3,297.1 L1669.5,299.1 L1669.8,299.7 L1670.2,299.8 L1670.5,299.6 L1670.9,296 L1671.3,297.9 L1671.7,297 L1672,293.2 L1672.4,293.3 L1672.8,292.8 L1673.8,292 L1674.7,292.5 L1675.6,291.8 L1676.6,291.3 L1677.5,290.3 L1678.5,294.1 L1679.5,294.6 L1680.4,293.6 L1681.2,293.1 L1682,295 L1682.7,295.5 L1683.5,295.8 L1683.8,297.3 L1684.1,297.9 L1684.4,296.9 L1684.7,299.2 L1685,299.8 L1685.3,301.2 L1685.6,301.3 L1685.9,297.7 L1686.2,299.1 L1686.4,295.7 L1686.7,296.7 L1687,296.9 L1687.3,294.3 L1688.3,292.2 L1689.3,293 L1690.3,292.8 L1690.6,290.9 L1690.9,290 L1691.2,290.7 L1691.4,288.7 L1691.7,289.7 L1692,287 L1692.3,286.7 L1692.6,285.2 L1693.6,285.3 L1694.6,284.2 L1695.6,283.7 L1696.6,282.6 L1697.7,283 L1698.7,282.9 L1699,283 L1699.4,282.7 L1699.7,278.7 L1700,279.2 L1700.3,279.6 L1700.7,279.3 L1701,276.8 L1702,275.6 L1702.9,276.6 L1703.8,276.5 L1704.8,276.1 L1705.4,275.2 L1706.1,273.8 L1706.7,272.9 L1707.3,271.6 L1708,273.9 L1708.6,271.5 L1709.4,271.8 L1710.1,274.3 L1710.9,271.7 L1711.6,274.4 L1712.4,274.5 L1713,276 L1713.6,274.5 L1714.2,275.2 L1714.8,279.2 L1715.4,278.4 L1715.9,276.6 L1716.3,275.9 L1716.8,275.1 L1717.2,274.8 L1717.7,273.8 L1718.7,275.7 L1719.6,274.9 L1720.5,274.9 L1721.5,276.1 L1722.1,275.2 L1722.7,276.7 L1723.2,278.2 L1723.8,279.1 L1724.4,279.5 L1724.9,278.8 L1725.5,277.4 L1726.1,275.3 L1727,276.6 L1727.9,273.7 L1728.8,274.6 L1729.7,275.4 L1730.6,273.8 L1731.3,271.6 L1732,273.3 L1732.7,272.5 L1733.4,271.5 L1733.7,269.9 L1734,269 L1734.3,267.5 L1734.6,268.4 L1734.9,266.9 L1736,268.3 L1737.1,267.2 L1738.2,266.2 L1739.1,266.5 L1740,267.3 L1741,268 L1741.9,268.2 L1742.8,266.9 L1743.5,267.3 L1744.3,268.2 L1745,270.1 L1745.8,270 L1746.6,270.5 L1747.3,268.7 L1748.1,266.9 L1748.9,267.7 L1749.7,266.2 L1750.4,264.6 L1751.2,265.9 L1751.9,264.7 L1752.5,265.6 L1753.2,265.2 L1753.8,265.3 L1754.4,269.2 L1755.1,270.1 L1755.7,269.2 L1756.5,268.6 L1757.2,269.3 L1758,270.7 L1758.8,272.8 L1759.5,273.8 L1760.3,273 L1761.2,272.1 L1762.2,270.2 L1763.1,271.8 L1764.1,270.7 L1764.9,271.8 L1765.6,270.4 L1766.4,270.3 L1767.2,268 L1767.9,269.8 L1768.7,267.7 L1769.5,269.9 L1770.2,270.5 L1771,268.2 L1771.7,270 L1772.5,271.1 L1773.2,269.5 L1774,272 L1774.8,272.3 L1775.2,271.2 L1775.5,271.2 L1775.9,268 L1776.3,268 L1776.6,269.4 L1777,266.9 L1777.5,267 L1778,266.1 L1778.5,263.5 L1779.1,262.7 L1779.6,264.3 L1780.1,262.4 L1780.4,263.1 L1780.8,265.7 L1781.1,266.4 L1781.4,266.6 L1781.7,266.4 L1782.1,269.8 L1782.4,269.2 L1782.9,270.2 L1783.4,272.3 L1783.9,271 L1784.4,272.8 L1784.9,272.8 L1785.4,273.8 L1786.3,274.3 L1787.2,274.1 L1788.2,271.4 L1789.1,272.5 L1790,271.5 L1791,272.4 L1791.9,272 L1792.8,270.9 L1793.8,271.5 L1794.1,273.3 L1794.5,272.3 L1794.8,274.1 L1795.1,275 L1795.4,275.2 L1795.8,276.3 L1796.1,277.6 L1797.1,278.7 L1798.1,277.9 L1799.1,278.4 L1799.4,279.1 L1799.8,278.9 L1800.1,280 L1800.4,280.5 L1800.8,282.7 L1801.1,284.1 L1801.4,285.5 L1801.8,284.2 L1802.1,286.7 L1802.4,288.7 L1802.6,287.8 L1802.9,290.6 L1803.2,289.8 L1803.5,289.8 L1803.7,293.5 L1804,292.8 L1804.5,290.3 L1805.1,290.6 L1805.6,288.4 L1806.2,289.6 L1806.7,288.2 L1807.7,286.4 L1808.7,286.8 L1809.7,286.7 L1810.5,287 L1811.2,288.5 L1812,288.2 L1812.8,286.1 L1813.5,288.8 L1814.3,286.7 L1814.8,288.2 L1815.3,287.1 L1815.8,289.5 L1816.4,289.9 L1816.9,290.6 L1817.4,291.3 L1818.4,291 L1819.3,289.7 L1820.2,292.9 L1821.2,291.3 L1822.1,291.1 L1823,292.4 L1823.8,290.2 L1824.7,289.5 L1825.6,290.6 L1826.5,289.8 L1827.3,290.8 L1828,289.4 L1828.8,287.3 L1829.5,288 L1830.3,286.7 L1830.9,287.4 L1831.4,283.6 L1832,284.9 L1832.6,282.9 L1833.3,284.3 L1834.1,284.8 L1834.8,285.2 L1835.3,287.6 L1835.7,288 L1836.2,288.4 L1836.6,288.5 L1837.1,289.8 L1838.1,291.8 L1839.2,290.2 L1840.2,291.3 L1840.4,290.6 L1840.6,294.6 L1840.7,295.6 L1840.9,293.3 L1841.1,294.2 L1841.3,296 L1841.5,297.2 L1841.6,298.2 L1841.8,298.9 L1842,300.4 L1842.2,302.3 L1842.3,300.9 L1842.5,301.8 L1842.6,302.4 L1842.8,305.4 L1842.9,304.5 L1843,307.3 L1843.2,306.8 L1843.3,309.1 L1843.5,309.5 L1843.6,312.1 L1843.6,310.3 L1843.7,312.7 L1843.8,313.1 L1843.8,312.7 L1843.9,315.8 L1843.9,314.6 L1844,317.1 L1844.2,314.6 L1844.4,314.2 L1844.6,313.3 L1844.8,314.7 L1844.9,313.2 L1845.1,310.7 L1845.3,310 L1845.5,309.5 L1846.5,310.2 L1847.4,311.1 L1848.3,310.9 L1849.3,311.8 L1850.1,313.7 L1850.8,312.6 L1851.6,314.6 L1852.4,314.3 L1853.1,312.8 L1853.9,314.9 L1854.5,312.5 L1855.1,315 L1855.7,312 L1856.3,310.3 L1856.9,311.1 L1857.4,311.8 L1857.8,307.8 L1858.3,309.9 L1858.7,307.1 L1859.2,306.5 L1859.5,308.2 L1859.7,308.1 L1860,307.9 L1860.2,309 L1860.5,310 L1860.7,312.6 L1861.2,313.3 L1861.6,310.8 L1862.1,308.2 L1862.5,310.5 L1863,308 L1863.5,306 L1863.9,304.5 L1864.3,306.8 L1864.8,304.2 L1865.4,306.5 L1865.9,305.5 L1866.5,308.6 L1867,308.3 L1867.6,308.8 L1868.2,309 L1868.8,309 L1869.4,311.6 L1870,312 L1870.6,312.6 L1871.5,312.1 L1872.4,310.8 L1873.3,311.8" fill="none" stroke="#000" stroke-width="3.5" stroke-linejoin="round" stroke-linecap="round"/>
<path id="red" d="M0,674.6 L0.8,672.4 L1.5,673.9 L2.3,674.1 L3.1,671.3 L3.8,669.8 L4.6,670.8 L5.1,671.5 L5.7,673 L6.2,674.7 L6.8,672.3 L7.3,673.1 L7.9,676.4 L8.4,676.2 L9.2,676.2 L9.9,676.6 L10.7,675.7 L11.4,673.6 L12.2,673.1 L12.8,673.4 L13.5,676 L14.1,674.7 L14.8,674.6 L15.4,674.8 L16.1,677.2 L16.7,677.7 L17.4,678.5 L18,678.5 L18.7,679.5 L19.3,680.7 L20,681.9 L20.6,683.1 L21.3,682.2 L22.2,682.8 L23,681.2 L23.9,684 L24.8,681.7 L25.7,683.4 L26.5,682.3 L27.4,684.2 L28.3,684.1 L29.2,683 L30.1,684.3 L31,685.5 L31.9,683.8 L32.8,684.2 L33.7,685.9 L34.7,683.6 L35.6,685.2 L36.5,686.1 L36.8,686.2 L37.2,684.2 L37.5,684 L37.8,682.8 L38.1,680.3 L38.5,681.7 L38.8,680 L39.7,679.1 L40.6,682.1 L41.5,680 L42.3,682 L43.2,681.3 L44.1,681.5 L45,683.1 L45.9,681.3 L46.9,683.8 L47.8,682.5 L48.7,683 L49.6,684.2 L50.5,683.2 L51.4,682.1 L52.3,680.5 L53.2,681.2 L54.1,681.7 L55,680.7 L56,681.1 L56.9,678.4 L57.8,678.4 L58.7,679.5 L59.6,679.8 L60.6,679.8 L61.5,680 L62.4,680 L62.7,679.4 L63.1,677.5 L63.4,676 L63.7,676.1 L64.1,676.6 L64.4,676.5 L64.7,675.5 L65.1,674.7 L65.4,672.4 L65.9,672.7 L66.5,671.8 L67,670.3 L67.6,670.4 L68.1,670.1 L68.7,667.3 L69.2,667 L69.8,666.8 L70.4,670.1 L71.1,669.6 L71.7,671.4 L72.3,670.8 L73.1,671.5 L73.8,668.1 L74.6,670.8 L75.3,670.2 L76.1,668.3 L76.8,668.6 L77.6,667 L78.3,668 L79.1,667.3 L79.8,669.2 L80.6,670.1 L81.4,670.1 L82.1,670.6 L82.9,669.5 L83.7,668.1 L84.4,669.1 L85.2,667 L86.2,665.8 L87.2,667.9 L88.2,668.2 L89.3,666.1 L90.3,664.8 L91.3,666.3 L91.8,664.2 L92.4,664.9 L92.9,664.4 L93.5,664.4 L94,660.5 L94.6,661.1 L95.1,660.2 L95.2,660.2 L95.4,658.2 L95.5,655.9 L95.7,657.7 L95.8,657.3 L96,656.1 L96.1,652.5 L96.3,652.3 L96.4,652.3 L96.6,651.1 L97.4,652.1 L98.2,650.8 L98.9,649.5 L99.7,648.8 L100.3,649.6 L100.9,647.2 L101.5,648.1 L102.1,644.8 L102.7,645 L102.9,645.2 L103.1,647.8 L103.3,649.3 L103.5,649.5 L103.7,649.9 L104,648.8 L104.2,650.3 L104.4,651.3 L104.6,652.4 L104.8,654.8 L105,654.9 L105.8,655 L106.5,657.1 L107.2,656.7 L108,657.1 L108.6,655.9 L109.2,655.7 L109.9,655.4 L110.5,655.3 L111.1,653.3 L112,652.5 L112.9,652.7 L113.8,651.3 L114.7,654.3 L115.6,652.6 L116,653.3 L116.5,650.6 L116.9,649.3 L117.4,647.5 L117.8,648.5 L118.3,647.7 L118.7,646.5 L119.6,648.6 L120.5,647.8 L121.4,646.8 L122.3,646.7 L123.2,648.8 L124,649.6 L124.7,647.5 L125.5,644.9 L126.2,646 L127,645 L127.4,642.5 L127.9,644.9 L128.3,644 L128.8,642.3 L129.2,640.4 L129.7,638.2 L130.1,638.9 L130.5,637.9 L131,635.6 L131.4,637.1 L131.8,633.8 L132.2,633.3 L132.7,635.3 L133.1,632.8 L133.9,635 L134.6,632.4 L135.4,632.9 L136.2,635.1 L137.3,635.6 L138.4,633.6 L138.8,635.6 L139.2,633.9 L139.6,635.2 L139.9,636 L140.3,636.2 L140.7,637.7 L141.1,641.1 L141.5,640.4 L142.2,642.1 L143,643.6 L143.8,642.6 L144.5,643.5 L145,642.5 L145.5,640.6 L146.1,641 L146.6,638.8 L147.1,638.1 L147.6,638.9 L148.3,639.4 L149.1,639.5 L149.8,638.5 L150.6,638.4 L151.3,636.7 L152.1,635.8 L153.1,635.3 L154.2,637 L155.2,637.4 L156,636.3 L156.7,634.6 L157.5,633.9 L158.2,633.3 L159,634.3 L159.5,633.5 L160,633 L160.5,631.4 L161,632.9 L161.5,630.8 L162,629.8 L162.3,629.7 L162.6,629.5 L162.9,625.8 L163.2,624.4 L163.4,626.1 L163.7,623.1 L164,624.8 L164.3,622.2 L164.6,621.8 L164.8,621.8 L165.1,620.6 L165.3,617 L165.6,618.7 L165.9,615.9 L166.1,614.9 L166.4,614.5 L166.6,615.3 L166.9,614.5 L167.1,613.8 L167.4,611.5 L167.7,608.9 L167.9,608.8 L168.2,607 L168.5,607.6 L168.8,607.6 L169.1,604.7 L169.3,605.2 L169.6,603.9 L170.4,605 L171.1,606.8 L171.9,606.2 L172.1,604.1 L172.3,603.1 L172.5,602.3 L172.7,604 L172.9,603 L173.1,600.3 L173.2,599.9 L173.4,598.8 L173.6,597.9 L173.8,596.4 L174,595.3 L174.2,594.8 L174.4,592.3 L174.5,592.1 L174.7,593.7 L174.9,592 L175,590.4 L175.2,589.1 L175.4,588.6 L175.5,588.2 L175.7,585.9 L175.9,586.2 L176,585.3 L176.2,584.1 L176.3,582 L176.4,580.9 L176.6,579.5 L176.7,578.4 L176.8,578.8 L177.3,581 L177.8,579.1 L178.3,581.3 L178.8,582.6 L179.1,580.9 L179.4,580 L179.7,580.1 L180.1,580.7 L180.4,578.3 L180.7,577.2 L181,576.5 L181.2,574.7 L181.5,574.5 L181.7,575 L181.9,572.3 L182.2,570.4 L182.4,569.4 L182.6,568.6 L182.8,567.6 L183.1,569.8 L183.3,567.4 L184.1,567.1 L184.8,565.9 L185.2,566.5 L185.6,569.4 L186,567.8 L186.4,569.7 L187.2,571.5 L187.9,572.3 L188.7,571.9 L189.7,570.1 L190.7,569.8 L191.7,571.2 L192.3,570.7 L192.8,574 L193.4,575.1 L194,574.2 L194.9,572 L195.9,574.5 L196.9,571.9 L197.8,571.9 L198.3,572.2 L198.8,572.9 L199.3,574.1 L199.8,573.9 L200.3,575 L200.8,577.3 L201.6,576.4 L202.4,579.5 L203.1,581.1 L203.9,580.3 L204.3,580.9 L204.8,577.9 L205.2,575.9 L205.7,576.5 L205.8,575 L205.9,573.3 L206,575.3 L206.1,573.6 L206.1,570.8 L206.2,572.2 L206.3,570.7 L206.4,567.4 L206.5,568.1 L207,568.3 L207.4,569.7 L207.9,571 L208.4,571.9 L209.2,571.5 L209.9,570.3 L210.7,570.5 L211.5,569.7 L212.2,568.3 L213,567.3 L213.8,569.6 L214.5,567.4 L214.6,566.9 L214.7,566.1 L214.7,562.9 L214.8,563.3 L214.9,563.7 L215,560 L215.1,562.1 L215.2,559.1 L215.2,559.2 L215.3,557.5 L215.4,556.7 L215.8,556.1 L216.3,556.5 L216.7,553.4 L217.2,554.7 L217.6,552.2 L217.8,550.2 L217.9,549.1 L218,550.4 L218.2,547 L218.3,547.1 L218.5,547.9 L218.7,547.4 L218.8,543.2 L218.9,544.6 L219.1,543 L219.3,543.7 L219.4,542.8 L219.6,539.9 L219.8,538.5 L220,538 L220.2,535.9 L220.3,536.2 L220.5,535.7 L221.3,536.2 L222.1,537.2 L222.6,536.1 L223.1,537 L223.6,534.2 L224.1,532.1 L224.6,534.3 L225.1,531.9 L225.6,529.5 L226.1,529.5 L226.6,529.1 L227.1,527.9 L227.6,526.1 L228.1,526.6 L228.9,527 L229.6,529.7 L230.4,528 L231.2,529.6 L231.7,530.3 L232.2,533 L232.7,533.3 L233.2,534.3 L233.7,535.3 L234.2,535 L235,533.9 L235.8,534.9 L236.5,536.8 L237.3,537.2 L237.9,537.1 L238.6,537.3 L239.2,535.6 L239.8,533.9 L240.5,533.5 L241.1,532.7 L241.8,531.6 L242.6,531.5 L243.3,531.3 L244.1,529.6 L245.1,529.7 L246.2,529.5 L247.2,531.2 L247.4,529.1 L247.7,530.9 L247.9,530 L248.2,528.9 L248.4,527.7 L248.7,526.8 L248.9,524.7 L249.2,524.7 L249.4,522.8 L249.5,520.4 L249.7,520.7 L249.8,519.1 L249.9,520.3 L250.1,517.5 L250.2,517.3 L250.3,517.1 L250.5,517.3 L250.6,513.7 L250.7,512.6 L250.9,514.1 L251,512.1 L251.6,509.8 L252.2,511.2 L252.8,509 L253.4,508.9 L254,508.3 L255,507 L256.1,509.8 L257.1,509.1 L257.4,507.6 L257.8,506.2 L258.1,508.2 L258.4,506.7 L258.8,506.5 L259.1,504.6 L259.4,502.7 L259.8,502.5 L260.1,501.5 L260.3,502.2 L260.5,499.6 L260.7,499.3 L260.9,498.4 L261.1,495.5 L261.2,496 L261.4,494.1 L261.6,492.3 L261.8,494.2 L262,492.9 L262.2,491.2 L262.4,490.1 L262.9,489.7 L263.4,490.3 L263.9,493.4 L264.4,493.5 L264.9,492.9 L265.4,495.4 L265.7,494.4 L266,491.9 L266.3,492.5 L266.5,491.8 L266.8,491.1 L267.1,490 L267.4,489 L267.7,487.8 L268.2,485.3 L268.7,485.5 L269.2,484.4 L269.7,483.9 L270.2,483.8 L270.7,482.5 L271.5,482.6 L272.2,482.6 L273,480.2 L273.1,477.7 L273.2,478.9 L273.3,477.1 L273.5,478 L273.6,476.8 L273.7,473 L273.8,474.2 L273.9,472 L274,473.1 L274.2,469.3 L274.3,469.7 L274.4,468.8 L274.5,468 L274.7,466.9 L274.9,465.3 L275,463.6 L275.2,464.9 L275.4,464.7 L275.6,462.3 L275.7,460.1 L275.9,460.8 L276.1,460.4 L276.3,458.4 L276.4,457.7 L276.6,458.4 L276.8,455.9 L276.9,453.4 L277,453.3 L277.1,451.5 L277.2,451.2 L277.2,450.2 L277.3,449 L277.4,448.4 L277.5,450 L277.6,447.2 L277.7,446.4 L277.8,447.2 L277.9,444.6 L278,442.2 L278,443.4 L278.1,440.6 L278.2,442.6 L278.3,438.4 L278.4,439.1 L278.5,437.4 L278.6,435.7 L278.6,436.5 L278.7,434 L278.8,434.4 L278.9,433 L279,431.8 L279,433.1 L279.1,432.1 L279.2,430 L279.3,427.7 L279.3,426.5 L279.4,427.5 L279.5,427.8 L279.6,424.6 L279.7,423.3 L279.7,422.5 L279.8,421 L279.9,421.6 L280.6,420.8 L281.4,422.5 L282.1,424.9 L282.9,423.9 L283,422.9 L283,421.3 L283.1,419.4 L283.2,420.4 L283.2,419.1 L283.3,416.6 L283.4,415.7 L283.4,416.2 L283.5,416.8 L283.6,415.3 L283.6,413.7 L283.7,412.5 L284.5,412.8 L285.2,414.5 L286,414.8 L286.2,415.7 L286.3,418.2 L286.5,416 L286.7,418 L286.8,421 L287,420 L287.2,422.9 L287.3,422.1 L287.5,423.1 L288.6,423 L289.8,422.4 L290.1,422.8 L290.4,422.5 L290.7,423.7 L291.1,427.5 L291.4,427.7 L291.7,428.5 L292,428.5 L292.2,428.9 L292.4,427.5 L292.6,427.3 L292.8,424.6 L293,423.7 L293.1,424.5 L293.3,421.8 L293.5,419.8 L293.7,420.2 L293.9,418.8 L294.1,419.6 L294.3,417.8 L294.5,417.8 L294.7,418.3 L294.9,420.3 L295.2,423.3 L295.4,422.7 L295.6,423.9 L295.8,424.7 L296.3,425.6 L296.8,426.9 L297.4,428.6 L297.9,429.8 L298.4,427.5 L298.9,430 L299.5,432.4 L300.1,431.5 L300.7,431.8 L301.3,434.6 L301.9,433.8 L302.8,433.9 L303.7,436 L304.7,436.1 L305.6,433.6 L306.5,435.3 L306.8,436.8 L307.1,438.1 L307.4,437.7 L307.6,437.1 L307.9,439.1 L308.2,440.2 L308.5,439.8 L308.8,442.2 L309.4,444.6 L310,443.4 L310.6,443.9 L311.2,444.8 L311.8,446 L312.3,444 L312.8,443.1 L313.4,443.4 L313.9,442.8 L314.4,440.8 L314.9,440.6 L315.4,439.7 L315.9,437.5 L316.5,439.1 L317,436.5 L317.5,436.8 L317.9,438 L318.3,437.3 L318.7,438.7 L319,440.6 L319.4,439.6 L319.8,443.6 L320.2,442.9 L320.8,441.9 L321.4,440.9 L321.9,439 L322.5,439.1 L323,439.8 L323.4,438.9 L323.9,436.8 L324.3,433.9 L324.8,434.6 L325,434.8 L325.2,437.3 L325.5,436.6 L325.7,436.6 L325.9,437.5 L326.1,439 L326.3,441 L326.6,441 L326.8,442.8 L327,443.7 L327.5,446.2 L328,447.1 L328.6,444.9 L329.1,447.7 L329.6,448.2 L330.1,449 L331.1,448.8 L332,450.5 L332.9,448.5 L333.9,449 L334.3,449.4 L334.8,450.2 L335.2,451.5 L335.6,454.1 L336,454.4 L336.5,452.6 L336.9,455.1 L337.7,455 L338.4,455 L339.2,457.7 L340,457.4 L340.7,458.8 L341.5,458.1 L342.3,457.4 L343,455.3 L343.8,456.9 L344.5,456 L345.3,455.1 L345.7,454.9 L346.1,451.8 L346.4,452.6 L346.8,450.7 L347.2,449.8 L347.6,450.4 L347.9,449.6 L348.3,448.2 L349.1,446.4 L349.8,445.4 L350.6,444.8 L351.3,445 L352.1,445.2 L353,446.6 L353.9,444.8 L354.9,443.1 L355.8,443.4 L356.7,444.4 L357.2,445.9 L357.7,447.8 L358.2,448.7 L358.7,448.5 L359.2,449.2 L359.7,449.8 L360.2,449.1 L360.8,450.7 L361.3,451.6 L361.9,451.7 L362.4,453.7 L363,453.8 L363.5,455.1 L364.1,456.3 L364.8,458.2 L365.4,458.4 L366.1,458.8 L366.8,458.6 L367.4,459.7 L368.5,457.9 L369.5,459.2 L370.6,460 L371.6,457.6 L372.7,458.9 L373.3,461.3 L374,460 L374.6,461.7 L375.2,461.5 L375.9,461.1 L376.5,463.5 L377.4,465.5 L378.3,462.8 L379.2,466.1 L380.1,464.5 L381,465.7 L381.9,466.6 L382.8,465.5 L383.8,466.5 L384.7,468.8 L385.6,468 L386.3,469 L386.9,465.5 L387.6,466.1 L388.2,466.8 L388.9,463.9 L389.5,465.1 L390.2,463.5 L390.9,463.2 L391.7,465.8 L392.4,466.4 L393.2,466.5 L393.6,467.2 L394.1,465.3 L394.5,462.3 L395,463.9 L395.4,460.6 L395.9,462.3 L396.3,460.4 L396.8,461.1 L397.2,459.5 L397.7,457.1 L398.2,458.6 L398.7,456.4 L399.2,453.7 L399.6,454 L400.1,453.6 L400.6,456 L401.1,454.7 L401.6,456 L402.1,456.1 L402.6,455.8 L403.1,458.1 L403.5,458.3 L404,460.3 L404.4,461 L404.8,461.3 L405.2,460.9 L405.7,464.9 L406.1,464.2 L406.6,466 L407.2,467.1 L407.7,468.1 L408.3,466.6 L408.8,467.1 L409.4,469.2 L409.9,469.5 L410.7,470.6 L411.4,466.9 L412.2,467.7 L413,466.5 L413.7,467.8 L414.5,466.5 L415.3,467.4 L416,464.8 L416.8,462.9 L417.5,463.9 L418.3,462.8 L419,461 L419.8,461.9 L420.3,464 L420.8,462.9 L421.2,465.4 L421.7,463.8 L422.2,467.7 L422.7,465.5 L423.1,469.4 L423.6,468.8 L424.5,467.3 L425.4,470.7 L426.4,468.7 L427.3,467.8 L428.2,469.5 L428.9,468.4 L429.7,468.5 L430.4,465.9 L431.2,466.5 L432.2,465.9 L433.2,467.1 L434.2,466.7 L435.3,465.4 L436.3,466.6 L437.3,467.3 L438.1,468.5 L438.8,469 L439.6,470.6 L440.4,468.9 L441.1,472.1 L441.9,471.1 L442.8,472.4 L443.7,471.8 L444.7,473 L445.6,473 L446.5,471.8 L447.4,472.3 L448.3,471.6 L449.2,474.2 L450.1,473.7 L451,473.4 L451.8,471.2 L452.5,470.6 L453.3,472.2 L454,471.1 L454.8,470.3 L455.3,471.4 L455.9,472.7 L456.4,472.8 L457,474.9 L457.5,473.3 L458.1,474.3 L458.6,475.6 L459.3,476.7 L459.9,478 L460.6,478.7 L461.2,479.8 L461.9,478.2 L462.5,481.1 L463.2,480.2 L464,481.5 L464.7,480 L465.5,481.9 L466.3,484.3 L467,484.5 L467.8,484 L468.4,484 L469.1,483.7 L469.7,484.9 L470.4,485.6 L471,487.4 L471.7,489.5 L472.3,488.6 L473.2,490 L474.2,489.8 L475.2,488.4 L476.1,490.1 L476.4,487.6 L476.7,487.9 L477,486.6 L477.2,487.9 L477.5,484.8 L477.8,483.5 L478.1,485 L478.4,482.5 L479.2,483.4 L479.9,482.4 L480.7,486.4 L481.4,485.1 L482.2,486.3 L482.9,484 L483.5,485.4 L484.2,485 L484.8,483.2 L485.5,484 L486.1,483.5 L486.8,481.7 L487.1,481.3 L487.5,481.8 L487.8,482.6 L488.1,484.9 L488.5,487.5 L488.8,488.2 L489.1,489.2 L489.5,490.1 L489.8,489.3 L490.6,490 L491.3,492 L492.1,489.6 L492.9,492.8 L493.6,493 L494.4,493.1 L495.3,493.3 L496.2,493.1 L497.2,492.5 L498.1,494.6 L499,494.7 L499.9,495.4 L500.9,497.3 L501.9,495.4 L502.9,496.2 L503.3,496 L503.7,493.5 L504,493.9 L504.4,491.2 L504.8,492.2 L505.2,490.8 L506.2,490.3 L507.3,490.8 L508.3,490.1 L508.5,488.3 L508.7,486.7 L509,486.9 L509.2,487.9 L509.4,487.2 L509.6,484.2 L509.8,484.8 L510.1,483.9 L510.3,482.5 L510.5,481 L511,478.6 L511.6,479.9 L512.1,478.7 L512.3,478.3 L512.5,482.2 L512.7,482.7 L512.9,483.4 L513,481.8 L513.2,485.3 L513.4,486.3 L513.6,486.3 L514.2,485.5 L514.8,489.2 L515.4,488.7 L516,489.1 L516.6,490.1 L517.1,488.2 L517.6,486.9 L518.2,486.8 L518.7,488.2 L519.2,486 L519.7,484.8 L520.2,484.2 L520.7,482.1 L521.2,481.2 L521.7,480.4 L522.2,479.1 L522.7,479.4 L523.5,481.4 L524.2,480.6 L525,481.7 L525.6,483.7 L526.1,481.6 L526.7,485.3 L527.3,484.8 L527.6,483.8 L528,483.9 L528.3,481.9 L528.6,479.8 L529,481.7 L529.3,478.6 L529.6,478.1 L530,476.1 L530.3,476.4 L531.1,476.1 L531.8,474.7 L532.6,475.1 L533.4,474.1 L534.4,474.8 L535.3,473.5 L536.2,473.1 L537.2,474.9 L538.1,475.2 L539,475.6 L539.9,475 L540.8,472.1 L541.7,473.4 L542.2,475 L542.7,475.4 L543.2,476 L543.8,477 L544.3,476.7 L544.8,477.9 L545.3,477.4 L545.9,477.7 L546.4,474.9 L547,473.3 L547.5,474 L548.1,473.6 L548.6,472.6 L549.2,470.1 L549.8,469.8 L550.3,470.6 L550.9,468.8 L551,467.7 L551.2,467.1 L551.3,464.5 L551.4,466.5 L551.6,465.9 L551.7,463.1 L551.9,461.5 L552,460 L552.1,461.9 L552.3,459.9 L552.4,458.9 L552.9,457 L553.4,459 L553.9,457.7 L554.4,456.7 L554.9,453.5 L555.4,454.3 L555.9,455.1 L556.3,457 L556.8,455.5 L557.2,459.3 L557.7,458.9 L557.9,459.6 L558.1,458.5 L558.3,455.2 L558.5,454.3 L558.7,455.7 L559,454.9 L559.2,454.2 L559.4,453.3 L559.6,450.7 L559.8,449.3 L560,449 L560.8,448.2 L561.5,451.6 L562.3,451.3 L562.5,453.9 L562.7,452.6 L562.9,453.5 L563.2,456.1 L563.4,456.7 L563.6,455.5 L563.8,458.1 L564,458.1 L564.2,458.5 L564.4,462.7 L564.7,461 L564.9,464.2 L565.1,465.6 L565.3,465 L566.3,466.1 L567.4,465.6 L568.4,463.5 L568.5,464.2 L568.6,460.1 L568.8,460.3 L568.9,458.9 L569,458.6 L569.1,459.8 L569.3,455.7 L569.4,457.1 L569.5,453.9 L569.6,456.2 L569.8,455.3 L569.9,452.8 L570.1,451.2 L570.4,452.6 L570.6,450.2 L570.8,450.8 L571,448.7 L571.3,446.6 L571.5,445.9 L571.7,445.4 L572,445.5 L572.2,443.7 L572.5,443 L572.8,443.6 L573.1,440.8 L573.5,439.6 L573.8,438.3 L574.1,437.4 L574.4,437.6 L574.7,435.1 L574.9,434.5 L575.2,436.2 L575.5,434.2 L575.7,432.9 L576,432.3 L576.3,433.8 L576.6,435.7 L576.9,436.1 L577.3,437.3 L577.6,436.4 L577.9,437.8 L578.2,439.1 L579,437.2 L579.7,437.4 L580.5,436.8 L581.3,435.2 L582,435.3 L582.8,435.3 L583.1,435.9 L583.4,436.7 L583.7,437.5 L584,438.1 L584.2,441.2 L584.5,440 L584.8,439.9 L585.1,442.2 L585.6,443.4 L586,442.5 L586.5,443.4 L586.9,445.9 L587.4,446.7 L588.4,445.6 L589.4,446.1 L590.4,448.2 L591,449.4 L591.6,451.2 L592.3,448.9 L592.9,450.1 L593.5,452.1 L593.8,452 L594.2,448.6 L594.5,448.1 L594.8,446.8 L595.2,447.2 L595.5,444.9 L595.8,446.8 L596.2,444.4 L596.5,443.7 L596.8,443.3 L597,441.5 L597.3,439.5 L597.5,440 L597.8,437.7 L598,438.5 L598.3,437.6 L598.6,437.3 L599,438.9 L599.3,440 L599.6,442.2 L600,443.1 L600.3,442.9 L600.7,442.4 L601.1,444.6 L601.5,447.1 L601.8,447.1 L602.2,446.3 L602.6,448.2 L603.6,447.8 L604.6,447.2 L605.6,447.5 L606.1,449.6 L606.7,449.1 L607.2,450.3 L607.8,452.1 L608.3,449.7 L608.9,450.6 L609.4,452.8 L610,450.4 L610.7,449.7 L611.3,451.7 L611.9,450.1 L612.6,450.6 L613.2,448.2 L614.2,447.2 L615.1,448.1 L616,451.5 L617,450.5 L618,452.3 L618.9,452.5 L619.8,452.9 L620.8,452.1 L621.2,453 L621.7,453.8 L622.1,454.7 L622.6,456.7 L623,456.2 L623.5,457.7 L623.9,458.1 L624.9,460.3 L625.8,457.7 L626.8,458.8 L627.7,460.4 L628.7,460.6 L629.6,458.9 L630.5,458.5 L631.5,458.1 L632.2,460.3 L633,459.8 L633.8,459.2 L634.5,460.4 L635.3,462.7 L636,463.5 L636.8,461.1 L637.5,462.5 L638.3,464.2 L638.6,463.4 L638.8,461.5 L639.1,463 L639.3,461.2 L639.6,459 L639.8,459.4 L640.1,456.6 L640.3,456 L640.6,455.9 L641.6,456 L642.7,457.5 L643.7,455.9 L644.5,454.8 L645.2,457.5 L646,459 L646.7,458.9 L647.5,460 L648.2,458.9 L649,460.1 L649.7,460.3 L650.5,460.5 L651.2,460.1 L652,461.9 L652.6,464.3 L653.3,461.8 L653.9,464 L654.5,464.2 L655.2,464.6 L655.8,466.5 L656.7,465.1 L657.6,466.3 L658.6,467.2 L659.5,467.3 L660.4,467.3 L661.3,468.9 L662.2,468 L663.2,467.7 L664.1,469.5 L665,469.5 L665.8,469.9 L666.5,467.2 L667.2,466.4 L668,466.1 L668.8,468.5 L669.5,466.5 L670.3,468.4 L671,466.3 L671.8,468.2 L672.6,469.7 L673.3,470.6 L674.1,469.5 L674.7,467.8 L675.4,467.7 L676,468.9 L676.6,468.1 L677.3,467.4 L677.9,465 L678.5,462.5 L679,463.7 L679.6,461.7 L680.2,461.2 L680.8,460.4 L681.4,458.8 L682,458.2 L682.6,458.1 L683.2,457.4 L684,459.6 L684.7,459.6 L685.5,459.8 L686.2,459.8 L687,460.4 L687.4,458.5 L687.8,458.3 L688.1,459.4 L688.5,458 L688.9,457.6 L689.3,455.1 L690.2,455.1 L691.2,454.3 L692.1,452.4 L693.1,453.6 L693.8,453.5 L694.4,450.7 L695.1,453.2 L695.7,450.1 L696.4,450.3 L697,448.1 L697.7,449 L698.5,448.9 L699.2,448.9 L700,452.4 L700.7,451.8 L701.5,452.1 L702.1,451.3 L702.7,452 L703.3,454.3 L703.9,454.5 L704.5,455.9 L705,455.2 L705.5,458.5 L706,458.3 L706.6,459.6 L707.1,459.5 L707.6,461.2 L708.6,460.6 L709.6,461 L710.6,461.9 L710.8,461.2 L711,464.6 L711.2,465.1 L711.4,463.9 L711.6,466.5 L711.8,468.9 L711.9,468.5 L712.1,470.6 L712.3,469.5 L712.5,470.8 L712.7,470.1 L712.9,472.6 L713.5,472.1 L714,472.5 L714.6,473.6 L715.2,475.6 L716,475.4 L716.7,475.3 L717.5,475.7 L718.2,473.8 L719,471.7 L719.7,472.6 L720.6,473 L721.5,472.1 L722.5,473.7 L723.4,473.6 L724.3,471.8 L725,472.4 L725.8,468.7 L726.5,468.8 L727.3,468.8 L728.2,469.4 L729.1,468.4 L730.1,470.4 L731,471 L731.9,470.3 L732.5,470.7 L733.1,469.1 L733.7,466.8 L734.3,466.1 L734.9,466.5 L735.2,465.5 L735.6,466.4 L735.9,465.6 L736.3,464.5 L736.6,462.8 L737,462.4 L737.3,461.7 L737.7,461.3 L738,458.9 L738.8,459.3 L739.5,455.8 L740.2,458 L741,455.9 L741.6,455.5 L742.1,453.4 L742.7,453.8 L743.3,452.1 L743.7,453.4 L744.1,453.8 L744.5,453.1 L744.8,455.8 L745.2,457.3 L745.6,457.4 L746.4,456.6 L747.1,454.2 L747.9,455.7 L748.6,454.3 L749.1,456.2 L749.6,456.4 L750.2,457.6 L750.7,457.4 L751.2,457.9 L751.7,459.7 L752,459.5 L752.3,457.4 L752.6,457.2 L752.9,457.6 L753.2,456.1 L753.5,454.4 L753.8,451.7 L754.1,452.5 L754.4,452.5 L754.7,450.5 L755.2,450.4 L755.7,452 L756.2,451.6 L756.8,454.9 L757.3,454.2 L757.8,455.9 L758.3,456.1 L758.9,456 L759.5,453.3 L760,452.8 L760.4,455.1 L760.8,454.9 L761.1,455.2 L761.5,455.9 L761.9,456 L762.3,458.1 L763.3,459.5 L764.4,458.9 L765.4,457.4 L766.1,456.7 L766.9,460.1 L767.6,458.6 L768.4,460.4 L769.3,458.7 L770.2,461.7 L771.2,458.4 L772.1,461.4 L773,459.7 L774,460.5 L774.9,462.1 L775.8,462.1 L776.8,461.9 L777.8,463.1 L778.7,461.6 L779.6,461.6 L780.6,460.4 L780.9,459.8 L781.2,460 L781.5,457 L781.8,458 L782,457.2 L782.3,454.6 L782.6,454.4 L782.9,452.8 L783.2,451.1 L783.5,450.5 L783.7,450.3 L784,448.5 L784.3,446.8 L784.5,447.1 L784.8,446.4 L785.1,445.2 L785.4,444.7 L785.6,444.3 L785.9,440.8 L786.1,443.1 L786.4,440.3 L786.6,438.5 L786.9,438.1 L787.1,438.4 L787.4,436.8 L787.7,438.9 L788.1,438.1 L788.4,439.7 L788.7,438.8 L789.1,441.5 L789.4,442.2 L790,440.9 L790.6,440 L791.5,438.9 L792.4,440.3 L793.4,440.2 L794.3,439.6 L795.2,437.7 L795.7,437.5 L796.3,441 L796.8,439.8 L797.4,441.1 L797.9,441.2 L798.5,443.6 L799,443.8 L800,445.1 L800.9,445.2 L801.8,445.2 L802.8,446.1 L802.9,444.9 L803,443.6 L803.1,444.6 L803.2,441.5 L803.3,441.1 L803.4,440 L803.5,438.3 L803.6,438.4 L803.7,439 L803.8,438.7 L803.9,441.8 L804.1,442.9 L804.2,442.7 L804.3,445.6 L804.4,443.8 L804.5,446.7 L804.6,447.5 L804.8,447 L804.9,448.4 L805,450.9 L805.1,450.6 L806,450.9 L807,451.4 L808,452.8 L808.9,451.4 L809.6,451.1 L810.4,448.6 L811.1,448.6 L811.9,449.1 L812.8,450.7 L813.7,449.8 L814.7,449 L815.6,449.3 L816.5,451.4 L817.5,451.7 L818.4,452.6 L819.3,449.2 L820.3,450.6 L821.1,448.2 L821.8,449.8 L822.6,447.6 L823.3,447.2 L824.1,446.8 L825.1,446.6 L826.2,446.1 L827.2,447.6 L827.4,447.3 L827.5,447 L827.7,445.3 L827.9,443.1 L828,444.4 L828.2,441.8 L828.4,441.8 L828.6,438.8 L828.7,440.1 L828.9,439.3 L829.1,438.9 L829.2,436.4 L829.4,435.4 L830.4,435.4 L831.3,433.4 L832.2,434.9 L833.2,433.1 L833.8,433.4 L834.4,433.1 L834.9,430.3 L835.5,428.4 L836.1,429.2 L836.6,428.2 L837.2,426.7 L837.8,427 L838.6,427.1 L839.3,426.8 L840.1,425.3 L840.8,425.5 L841.6,423.2 L841.9,422.9 L842.3,420.2 L842.6,419.9 L843,419.3 L843.3,419.9 L843.7,419.4 L844,417.5 L844.4,417.9 L844.7,415.6 L845.7,414.2 L846.7,415 L847.7,414.9 L848.6,415.7 L849.4,414 L850.3,412.6 L851.2,414.6 L852,412.1 L852.9,412.7 L853.8,414.9 L854.8,413.5 L855.7,415.9 L856.6,415.9 L857.6,414.1 L857.7,412.3 L857.8,410.9 L857.9,409.9 L858,409.2 L858.1,410.2 L858.2,408.1 L858.3,409.2 L858.4,407.7 L858.5,404.8 L858.6,405.2 L858.7,403.7 L858.8,404.1 L858.9,403.3 L859,400.6 L859.1,401.4 L859.2,400 L859.3,398.2 L859.4,397.4 L860.3,397.4 L861.1,397.5 L862,395.8 L862.9,395.8 L863.2,393.9 L863.5,395.5 L863.8,393 L864,391.2 L864.3,391.7 L864.6,388.5 L864.9,389.2 L865.2,388.2 L865.4,385.7 L865.6,385.8 L865.8,383.9 L866,383.7 L866.2,385 L866.4,382.7 L866.5,380.4 L866.7,382.7 L866.9,379.4 L867.1,381 L867.3,377.8 L867.5,377.6 L867.6,375.1 L867.7,377.3 L867.8,374.2 L868,374.9 L868.1,374.5 L868.2,370.4 L868.3,371.1 L868.4,369.3 L868.5,370 L868.7,368.2 L868.8,365.7 L868.9,366.4 L869,365.4 L869.1,365.5 L869.2,363.2 L869.3,363.5 L869.4,361 L869.5,360.8 L869.7,360.4 L869.8,359.2 L869.9,359.7 L870,358.5 L870.1,356.3 L870.6,356.5 L871,355.4 L871.5,353.7 L872,352.5 L872.6,351.7 L873.2,355.5 L873.9,356.4 L874.5,355.9 L875.1,356.3 L875.9,356.7 L876.6,357.8 L877.4,360.2 L878.1,359.3 L878.9,360.5 L879.6,359.5 L880.4,361.6 L881.2,360.8 L882,359.4 L882.7,359.6 L883.5,359.3 L883.8,357.2 L884.1,356.4 L884.4,358.3 L884.8,357.3 L885.1,353.3 L885.4,352.7 L885.7,353.2 L885.8,351.6 L886,350.7 L886.1,348.7 L886.3,350.6 L886.4,346.8 L886.6,348.4 L886.7,347.4 L886.9,345 L887,343.6 L887.2,343.7 L887.3,342.6 L887.8,342 L888.3,339.5 L888.8,338.7 L889.3,340.3 L889.8,338.6 L890.3,338 L890.6,336.5 L890.9,334.8 L891.2,334.2 L891.5,333.2 L891.7,334.9 L892,330.7 L892.3,332.9 L892.6,330.4 L892.9,330.2 L893.1,328.9 L893.4,328 L893.6,326.4 L893.9,327.6 L894.1,325.1 L894.3,326.8 L894.5,327 L894.7,327.8 L894.9,329.2 L895,328.3 L895.2,330.4 L895.4,330.9 L895.6,332.7 L896.6,333.6 L897.7,333.5 L898.7,332.7 L899.5,330.3 L900.2,330.9 L901,331.8 L901.7,329.7 L902,327.2 L902.3,326.3 L902.6,328.3 L902.9,325.9 L903.2,324.5 L903.6,322.6 L903.9,323.5 L904.2,321.6 L904.5,321.7 L904.8,320.5 L905.4,321.9 L906,323 L906.6,322.3 L907.2,322.8 L907.8,324.3 L908.8,324.9 L909.8,325.2 L910.8,325.9 L911.6,325.5 L912.3,323.9 L913.1,323.7 L913.8,322.6 L914.6,322.8 L915.6,322 L916.7,323 L917.7,322.8 L918.3,323.4 L918.9,320.2 L919.4,320.8 L920,319 L920.6,318.7 L921.2,317.6 L921.8,316.7 L922.1,318.5 L922.4,317.7 L922.7,320.1 L922.9,320.6 L923.2,319.5 L923.5,322.4 L923.8,322.8 L924.5,324.4 L925.3,326 L926,323.7 L926.8,325.9 L927.6,325.4 L928.3,325.2 L929.1,322.7 L929.8,325 L930.6,322.8 L931.5,323.3 L932.5,321.4 L933.5,320.7 L934.4,322.1 L934.7,322.4 L935.1,325.4 L935.4,326.3 L935.7,323.9 L936,324.8 L936.4,328.2 L936.7,328.1 L937.3,328.7 L937.9,328.8 L938.5,331.2 L939.1,331.3 L939.7,331.9 L940.7,332.9 L941.6,333.4 L942.5,332.1 L943.5,334.2 L944.5,335.8 L945.5,333.6 L946.4,335.8 L947.4,334.2 L948.1,335.9 L948.9,335.8 L949.6,336.7 L950.4,337.3 L950.9,336.3 L951.4,333.9 L951.9,334.2 L952.4,334.3 L952.9,331.2 L953.4,331.9 L953.8,331.2 L954.2,335.2 L954.5,335.7 L954.9,333.9 L955.3,337 L955.7,337.3 L956.5,337.8 L957.2,339.9 L958,338.7 L958.7,339.4 L959.5,340.3 L960.5,339.1 L961.4,340.2 L962.3,339.6 L963.3,339.6 L964.2,339.3 L965.2,340.2 L966.1,340.2 L967.1,341.8 L967.9,343.4 L968.7,341.9 L969.4,342.5 L970.2,344.9 L971.2,343.6 L972.2,346.4 L973.2,344.9 L973.4,343.3 L973.6,344 L973.8,343.2 L974,340.6 L974.2,341.4 L974.5,340.2 L974.7,338.5 L974.9,336.7 L975.1,336.7 L975.3,334.3 L975.5,335 L976,333.7 L976.4,332.4 L976.9,332.9 L977.3,331.8 L977.8,330.4 L978.7,329.4 L979.6,331.3 L980.5,331.6 L981.4,329.9 L982.3,329.7 L983.2,328.4 L984.1,329.8 L985.1,327.1 L986,327.6 L986.9,328.1 L988,329.1 L989,330 L990.1,327.6 L991.1,330.3 L992.2,328.9 L993.2,330.3 L994.1,330.1 L995,326.7 L996,328.1 L996.6,328.9 L997.3,326.9 L997.9,325.9 L998.2,328.2 L998.5,327.4 L998.8,327.7 L999.2,329.1 L999.5,331.9 L999.8,331.2 L1000.8,332.1 L1001.9,330.3 L1002.9,330.4 L1003.9,331.5 L1004.8,332.8 L1005.8,332.9 L1006.7,332.7 L1007.7,333.1 L1008.7,332.8 L1009.7,334.2 L1010,332.3 L1010.4,331.9 L1010.7,330.9 L1011.1,329.2 L1011.4,328.4 L1011.8,330.4 L1012.1,326.7 L1012.5,325.8 L1012.8,326.6 L1013.5,325.8 L1014.3,326.7 L1015,326 L1015.8,323.6 L1016.3,322.1 L1016.8,320.4 L1017.3,320.2 L1017.9,318.8 L1018.4,318.4 L1018.9,318.3 L1019.5,318 L1020,314.9 L1020.5,314.4 L1021.1,314.5 L1021.9,314.9 L1022.7,316 L1023.4,315.7 L1024.2,317.5 L1025.2,316.2 L1026.1,315.5 L1027,315.9 L1028,316.7 L1028.5,316.7 L1029,314.9 L1029.5,312.8 L1030,314.6 L1030.5,312.9 L1031,312.2 L1031.8,311.7 L1032.5,313.3 L1033.3,312.8 L1034.1,315.2 L1034.8,314.4 L1035.6,318.4 L1036.3,319.1 L1037.1,318.3 L1038,320.3 L1038.9,318.2 L1039.9,319.7 L1040.8,321.1 L1041.7,320.5 L1042.3,319.6 L1043,323.4 L1043.6,321.5 L1044.3,323.6 L1044.9,322.2 L1045.6,325 L1046.2,325.1 L1047.1,325.2 L1048,326.9 L1049,324 L1049.9,325.7 L1050.8,325.9 L1051.8,327.1 L1052.7,323.5 L1053.6,325.2 L1054.6,324.3 L1055.4,325.7 L1056.1,325.1 L1056.9,326.2 L1057.6,328.9 L1058.4,328.1 L1059.2,330.2 L1059.9,329.9 L1060.7,330 L1061.5,328.6 L1062.2,330.8 L1063,331.2 L1064,333 L1064.9,333 L1065.8,330.1 L1066.8,331.9 L1067.4,330.9 L1068.1,332.3 L1068.7,334.1 L1069.3,333.7 L1070,334.7 L1070.6,335.8 L1071.7,336.3 L1072.8,337.1 L1074,336.1 L1075.1,335.8 L1075.6,336.5 L1076.1,332.4 L1076.7,333.8 L1077.2,332.8 L1077.7,329.7 L1078.2,330.4 L1079.1,329.6 L1080.1,331.2 L1081.2,328 L1082.2,329.6 L1082.7,328.9 L1083.2,333 L1083.7,333.9 L1084.2,333.7 L1084.7,335.6 L1085.2,334.9 L1086,337 L1086.7,334.3 L1087.5,336.4 L1087.9,336.2 L1088.3,336.2 L1088.7,333.5 L1089,333 L1089.4,331.3 L1089.8,331.1 L1090.4,332.9 L1091,331.8 L1091.6,332.6 L1092.2,332.5 L1092.8,334.9 L1093.8,334 L1094.7,336 L1095.6,336.7 L1096.6,336.4 L1097.1,335 L1097.6,333.2 L1098.2,334.2 L1098.7,333.4 L1099.2,333.6 L1099.7,331.1 L1100.5,329.6 L1101.2,329 L1102,329.5 L1102.7,328 L1103.7,329.8 L1104.6,328.3 L1105.5,328.5 L1106.5,328.8 L1107,328.2 L1107.6,329.8 L1108.1,332.4 L1108.7,333 L1109.2,334.2 L1109.8,331.7 L1110.3,334.1 L1111.2,335.7 L1112.2,333.5 L1113.1,336.1 L1114.1,335.6 L1115,334.2 L1115.9,335.8 L1116.9,334.8 L1117.8,337.8 L1118.7,336.4 L1119.7,336.8 L1120.6,338.4 L1121.5,336.4 L1122.5,337.2 L1123,339.7 L1123.5,338.3 L1124,341.5 L1124.5,340 L1125,340.2 L1125.5,342.5 L1126.5,344.1 L1127.4,342.7 L1128.3,343.5 L1129.3,344 L1130.2,342.6 L1131.1,343.8 L1132.1,344.6 L1133,343.6 L1133.9,344.8 L1134.9,344.8 L1135.8,342 L1136.8,344.3 L1137.7,342.5 L1138.7,342.4 L1139.7,345.1 L1140.7,344 L1141.2,344.3 L1141.7,344.6 L1142.2,345.7 L1142.8,347.5 L1143.3,348.7 L1143.8,348.6 L1144.8,348.5 L1145.7,348.6 L1146.6,350.9 L1147.6,350.9 L1148.5,351.9 L1149.5,348.9 L1150.5,348.8 L1151.4,350.1 L1152.4,349.5 L1153.3,352.5 L1154.2,352.8 L1155.2,351.6 L1155.8,352 L1156.3,350.8 L1156.9,347.8 L1157.5,348.6 L1158.1,351.1 L1158.7,349.9 L1159.2,350.3 L1159.8,352.4 L1160.4,353.2 L1161,349.3 L1161.6,351.7 L1162.2,349.6 L1162.8,348.6 L1163.8,347.7 L1164.7,349.6 L1165.6,348.5 L1166.6,350.1 L1167.4,349.8 L1168.2,348 L1168.9,346.8 L1169.7,347.8 L1170.7,349.2 L1171.6,346.7 L1172.5,348.7 L1173.5,347.1 L1174.5,346.8 L1175.4,347.7 L1176.3,344.9 L1177.3,346.3 L1177.7,345.7 L1178,346.5 L1178.4,350.4 L1178.8,350.5 L1179.1,349.1 L1179.5,351.6 L1180.3,353.5 L1181,354 L1181.8,355.5 L1182.5,355 L1183.3,355.4 L1184.2,357.3 L1185.2,357.4 L1186.1,358.2 L1187.1,357.7 L1188.1,357.4 L1189.2,356.6 L1190.2,356.9 L1190.5,357 L1190.7,356.7 L1191,352.6 L1191.2,351.8 L1191.5,352.4 L1191.7,351.6 L1192.1,354.1 L1192.5,353.1 L1192.8,352.6 L1193.2,356.3 L1193.6,357.1 L1194,356.9 L1194.8,359.1 L1195.5,358.4 L1196.3,360.4 L1197,358.4 L1197.8,360 L1198.8,360.9 L1199.7,359.4 L1200.6,357.3 L1201.6,358.5 L1202.2,357.3 L1202.8,358.6 L1203.3,357.8 L1203.9,355.4 L1204.5,355.8 L1205.1,358.9 L1205.6,359.5 L1206.2,359.2 L1207.2,360.9 L1208.1,360.4 L1209,360.8 L1210,360.7 L1210.8,358.8 L1211.5,359.1 L1212.3,358.6 L1213,356.6 L1213.8,356.9 L1214.3,355.6 L1214.7,355.3 L1215.2,354.5 L1215.6,354.8 L1216.1,352.4 L1217,350.7 L1218,351.4 L1219,352.2 L1219.9,351.6 L1220.3,352 L1220.6,353.8 L1221,353.6 L1221.4,356.7 L1221.7,355.7 L1222.1,356.9 L1222.3,356.2 L1222.6,359.7 L1222.8,361.1 L1223,358.8 L1223.2,361.1 L1223.5,362.2 L1223.7,363 L1224.5,365 L1225.2,365.8 L1226,364.5 L1226.7,365.3 L1227.5,364.3 L1228.2,367.4 L1229,368.5 L1229.7,367.6 L1230.7,367.8 L1231.8,366.7 L1232.8,366.1 L1233.3,364 L1233.7,365.9 L1234.2,361.7 L1234.6,360.8 L1235.1,361.5 L1236.1,363.2 L1237.1,362.4 L1238.1,362.3 L1238.9,362.7 L1239.6,361.7 L1240.4,360.7 L1240.7,363.2 L1241.1,364 L1241.4,362.5 L1241.7,365.6 L1242,363.5 L1242.4,364.3 L1242.7,366.8 L1243.8,368.1 L1245,366.1 L1245.5,364.5 L1246,362.4 L1246.5,363 L1247,363.7 L1247.5,363.6 L1248,366 L1248.5,366 L1249,365.8 L1249.5,367.6 L1250,365.8 L1250.5,367.2 L1251,364 L1251.6,364.7 L1252.1,362.4 L1252.6,363 L1253,362.8 L1253.5,362.9 L1253.9,361.2 L1254.3,361.1 L1254.7,359.3 L1255.2,356.4 L1255.6,356.9 L1255.9,355.5 L1256.3,355.1 L1256.6,354.6 L1256.9,352.2 L1257.2,352.9 L1257.6,350.1 L1257.9,350.1 L1258.7,349.5 L1259.4,348.6 L1260.2,346.2 L1260.9,347.1 L1261.9,348.1 L1262.8,346.4 L1263.8,346.1 L1264.7,345.5 L1265.5,346.2 L1266.2,345.4 L1267,346.2 L1267.8,348.6 L1268.5,348.1 L1269.3,351.5 L1270,350 L1270.8,351.6 L1271.2,351.6 L1271.7,348.4 L1272.1,347.8 L1272.6,347.5 L1273,348.7 L1273.5,344.8 L1273.9,345.5 L1274.9,345 L1275.9,345.6 L1276.9,344.8 L1277.4,345.8 L1277.9,346.3 L1278.4,348.2 L1278.9,348.2 L1279.4,347.1 L1279.9,349.3 L1280.9,350.7 L1282,349.3 L1283,350.9 L1283.3,351.4 L1283.6,354.3 L1283.9,355.3 L1284.2,356.2 L1284.5,356.1 L1284.8,355.3 L1285.1,356.3 L1285.4,359.9 L1285.7,359.2 L1285.9,358.7 L1286,355.7 L1286.2,358 L1286.3,356.2 L1286.5,356.1 L1286.7,354.1 L1286.8,350.9 L1287,350.6 L1287.1,350.5 L1287.3,349.5 L1287.4,350.4 L1287.6,347.8 L1288.2,346.1 L1288.8,346.2 L1289.4,345.4 L1290,344.6 L1290.6,344 L1291.5,342.5 L1292.4,342.4 L1293.4,342.4 L1294.3,344.5 L1295.2,344 L1296.2,344.3 L1297.1,345.4 L1298,344.2 L1299,346.3 L1299.8,345.5 L1300.5,343.4 L1301.2,342.6 L1302,343.2 L1303,343.7 L1303.9,344.1 L1304.8,344 L1305.8,343.2 L1306.2,344 L1306.7,344.4 L1307.1,347.4 L1307.6,348.3 L1308,346.7 L1308.5,346.9 L1308.9,349.3 L1309.9,349.6 L1310.9,349.3 L1311.9,348.6 L1312.9,346.8 L1313.9,349.2 L1314.9,347.1 L1315.4,346.4 L1315.9,347.7 L1316.5,350.1 L1317,352 L1317.5,349.9 L1318,352.4 L1318.9,352.3 L1319.8,354.9 L1320.7,355.4 L1321.6,353.9 L1322.5,354.7 L1323.4,354.3 L1324.3,352.5 L1325.3,353.9 L1326.2,351.4 L1327.1,352.4 L1328,351.3 L1328.9,351.7 L1329.9,353.9 L1330.8,352.6 L1331.7,354.7 L1332.6,356.6 L1333.5,356.9 L1334.4,357 L1335.3,356.8 L1336.2,356.2 L1336.7,356.9 L1337.2,354.8 L1337.8,354.8 L1338.3,353.3 L1338.8,352.9 L1339.3,350.9 L1339.5,348.5 L1339.7,348 L1339.9,346.5 L1340.2,348.1 L1340.4,346.7 L1340.6,343.9 L1340.8,344 L1341.8,342.1 L1342.8,342.2 L1343.8,342.5 L1344.6,344.2 L1345.3,343.3 L1346.1,343.7 L1346.9,343.5 L1347.6,344.8 L1348.4,345.5 L1349.4,346.5 L1350.3,343.4 L1351.2,343.3 L1352.2,343.2 L1352.7,345.7 L1353.2,346 L1353.8,344.3 L1354.3,348.3 L1354.8,346.1 L1355.3,348.6 L1356.2,350 L1357.2,348.1 L1358.1,348.9 L1359.1,350.9 L1360,352.5 L1360.9,350.7 L1361.8,350.8 L1362.7,352.2 L1363.6,352.4 L1364.5,352 L1365.5,351 L1366.5,350.3 L1367.4,350.9 L1367.7,353.4 L1368,354.2 L1368.3,353.9 L1368.5,352.7 L1368.8,354.5 L1369.1,355.6 L1369.4,356.9 L1370,358.5 L1370.6,358.7 L1371.5,359.8 L1372.4,357.1 L1373.4,357.5 L1374.3,356.3 L1375.2,356.4 L1376,357.2 L1376.7,356.6 L1377.5,358.7 L1378.2,360.4 L1379,359.4 L1380,359.1 L1380.9,359.3 L1381.8,360.2 L1382.8,360.2 L1383.6,357.8 L1384.3,360.3 L1385.1,356.3 L1385.8,356.7 L1386.6,356.4 L1387.5,355.5 L1388.5,358.8 L1389.5,356.8 L1390.4,357.9 L1391.2,356.6 L1391.9,358.2 L1392.7,355.8 L1393.5,354.3 L1394.2,354.7 L1395,354.1 L1395.8,354.9 L1396.5,354.1 L1397.3,355.4 L1398.1,355.8 L1398.8,357.6 L1399.6,357.1 L1400,357.3 L1400.5,356.5 L1400.9,354.2 L1401.4,354.6 L1401.8,352.6 L1402,351.4 L1402.2,352.4 L1402.4,350.5 L1402.6,348.4 L1402.8,349.7 L1403.1,345.6 L1403.3,344.9 L1403.5,344.3 L1403.7,344.3 L1403.9,342 L1404.1,342.7 L1404.9,340.3 L1405.6,339.6 L1406.4,340.4 L1407.3,340.3 L1408.2,338.8 L1409.1,341.2 L1409.9,340.5 L1410.8,337.5 L1411.7,338.9 L1412.6,340.3 L1413.5,338.7 L1414.5,339.9 L1415.4,336.7 L1416.3,338.1 L1417.2,340 L1418.1,340.3 L1419.1,338.5 L1420,338.2 L1420.9,339.7 L1421.9,338.8 L1422.8,339.3 L1423.8,340.1 L1424.7,338.1 L1425.1,338.9 L1425.5,338 L1425.8,335.3 L1426.2,334.2 L1426.6,334.4 L1427,332.6 L1427.3,331.5 L1427.7,331.3 L1428.7,331.5 L1429.7,333.5 L1430.7,332.8 L1431.7,333.1 L1432.6,333.9 L1433.5,333.6 L1434.5,334.3 L1435.3,333.5 L1436,332.7 L1436.8,334.2 L1437.6,332 L1438.3,332.9 L1439.1,334.8 L1439.8,333.5 L1440.6,334.3 L1441.4,335.1 L1442.2,331.2 L1442.9,331.5 L1443.7,331.3 L1444.6,330.7 L1445.5,329.4 L1446.4,329.8 L1446.8,330.5 L1447.1,330.2 L1447.5,332.2 L1447.9,332.3 L1448.3,334.1 L1448.6,334.5 L1449,335.8 L1449.6,335.1 L1450.3,336.5 L1450.9,337.8 L1451.5,336.8 L1452.2,339.2 L1452.8,339.7 L1453.4,340.7 L1454.1,338.1 L1454.7,338.5 L1455.3,338 L1456,335.3 L1456.6,335.8 L1457.5,337 L1458.5,336.7 L1459.5,333.2 L1460.4,334.3 L1460.7,335 L1461.1,331.6 L1461.4,333.3 L1461.7,329.2 L1462,331.5 L1462.4,329.3 L1462.7,328.2 L1463.5,326 L1464.2,326 L1465,325.1 L1465.7,326 L1466.7,324.9 L1467.6,326.9 L1468.5,326.3 L1469.5,326.7 L1470,324.3 L1470.5,324.8 L1471,325.1 L1471.6,323.8 L1472.1,324.6 L1472.6,322.2 L1472.7,319.6 L1472.8,320.6 L1472.9,319.4 L1472.9,319.4 L1473,315.8 L1473.1,314.8 L1473.2,315.2 L1473.3,314.5 L1473.8,313.9 L1474.3,311.4 L1474.8,312.8 L1475.4,311.5 L1475.9,311.8 L1476.4,310 L1477,307.6 L1477.6,309.2 L1478.2,306.5 L1478.8,306.3 L1479.4,306.2 L1480.4,307.9 L1481.3,309 L1482.2,308.2 L1483.2,308.5 L1484.2,307.8 L1485.3,309 L1486.3,306.9 L1487.3,305.4 L1488.3,306.2 L1489.3,306.2 L1490.1,306.1 L1490.8,306 L1491.6,308.2 L1492.4,308.5 L1492.9,309.3 L1493.4,307.3 L1493.9,306.2 L1494.7,307.7 L1495.4,307.7 L1496.2,310.1 L1496.9,309.5 L1497.7,310 L1498.7,308.9 L1499.6,310.5 L1500.5,312.1 L1501.5,310.7 L1502.4,310.9 L1503.3,312.9 L1504.3,311.6 L1505.2,313.6 L1506.1,312.3 L1507.2,312.7 L1508.3,313.2 L1509.5,311.9 L1510.6,312.3 L1511.4,312.7 L1512.2,310.4 L1512.9,308.4 L1513.7,309.2 L1514.2,308.9 L1514.8,306.1 L1515.4,308.6 L1515.9,306.2 L1516.9,307.9 L1517.8,307.4 L1518.8,308.9 L1519.7,308.5 L1520.7,306.5 L1521.6,309.3 L1522.5,306.4 L1523.5,306.9 L1524.5,308.3 L1525.5,309.3 L1526.4,306.5 L1527.4,308.5 L1528.2,308.4 L1528.9,310 L1529.7,310.6 L1530.4,308.9 L1531.2,309.7 L1531.9,311.5 L1532.8,313.4 L1533.7,311.3 L1534.7,313.2 L1535.6,311.1 L1536.5,313 L1537.4,312 L1538.3,312 L1539.2,314.3 L1540.1,315.8 L1541,314.5 L1541.6,313.9 L1542.2,312.6 L1542.9,312.6 L1543.5,312.1 L1544.1,310.7 L1545,310 L1545.9,310.9 L1546.9,311.4 L1547.8,311.1 L1548.7,309.2 L1549.7,308.8 L1550.6,308.3 L1551.5,311.9 L1552.5,310.7 L1553.1,312.9 L1553.7,313.8 L1554.3,313.8 L1554.9,313.4 L1555.5,314.5 L1556.4,315.7 L1557.3,315.8 L1558.3,315.7 L1559.2,312.4 L1560.1,313.8 L1561.2,315.1 L1562.2,313 L1563.3,312.8 L1564.3,313.7 L1565.4,313 L1566.3,313 L1567.2,315.5 L1568.1,315.2 L1569,315.2 L1569.9,315.3 L1570.8,315 L1571.7,315.7 L1572.7,315 L1573.6,316.1 L1574.5,315.3 L1575.3,316 L1576,315.5 L1576.8,312.2 L1577.6,312.8 L1578.3,312.9 L1579.1,312.3 L1580,310.4 L1580.9,312.2 L1581.8,311.2 L1582.7,311.1 L1583.6,310.7 L1584.4,311.9 L1585.1,311.1 L1585.9,314.2 L1586.6,314.7 L1587.4,313.8 L1588.4,312.7 L1589.3,313.7 L1590.2,313.7 L1591.2,312.3 L1591.8,310.6 L1592.5,310.5 L1593.2,311.4 L1593.8,308.2 L1594.4,307.5 L1595.1,308.5 L1596,308.7 L1596.9,308.7 L1597.8,306.3 L1598.7,308.4 L1599.6,306.9 L1600.5,308.7 L1601.5,307.6 L1602.5,307.5 L1603.4,307.7 L1603.6,306.9 L1603.8,304.4 L1604,305.7 L1604.2,304.2 L1604.4,304.1 L1604.6,303.7 L1604.8,301.2 L1605,300.5 L1605.2,299.3 L1605.4,298.8 L1605.6,299 L1605.7,294.8 L1605.9,295.5 L1606.1,293.6 L1606.3,293.7 L1606.5,293.7 L1606.7,291.7 L1606.8,291.7 L1607,289.9 L1607.2,288.7 L1607.8,287 L1608.4,286.3 L1609.1,284.8 L1609.7,286 L1610.3,284.9 L1610.9,283.6 L1611.5,284.6 L1612.1,284 L1612.7,280.6 L1613.3,281.1 L1614.2,279.8 L1615.2,282.3 L1616.1,280.4 L1617.1,281.8 L1618,281.7 L1618.9,281.8 L1619.9,280 L1620.8,281.6 L1621.7,279.6 L1622.5,277.8 L1623.2,278.7 L1624,276.8 L1624.7,275 L1625.5,275.8 L1626.2,276.1 L1627,276.7 L1627.8,278.3 L1628.5,278 L1629.5,278.4 L1630.4,278.1 L1631.3,279 L1632.3,280.3 L1633.2,279.3 L1634.2,280.2 L1635.1,278.2 L1636.1,278 L1637,280.2 L1638,280.4 L1639,278.7 L1639.9,280.3 L1640.5,281 L1641.1,277.2 L1641.8,278.1 L1642.4,275.9 L1643,276.5 L1644,276.2 L1644.9,277.8 L1645.8,276 L1646.8,275.8 L1647.8,276.1 L1648.7,278.5 L1649.6,276.4 L1650.6,278 L1651.5,277.3 L1652.4,280.3 L1653.3,280.3 L1654.2,278.2 L1655.1,280.3 L1656.2,280.4 L1657.2,281.1 L1658.3,279.6 L1659.4,279.6 L1660.6,279.9 L1661.5,279.8 L1662.4,281 L1663.4,281.6 L1664.3,280.8 L1665.2,282.2 L1666.2,283.5 L1667.2,280.8 L1668.2,282.5 L1669.3,284.3 L1670.3,281.3 L1671.3,282.9 L1672.3,282.9 L1673.3,281.3 L1674.3,281.8 L1675.4,281.3 L1676.4,283 L1677.4,282.9 L1678.3,282.4 L1679.2,284.8 L1680.1,282.1 L1681,283.5 L1681.9,283.7 L1682.8,284.2 L1683.7,284.9 L1684.7,285.4 L1685.6,282.7 L1686.5,284.4 L1687.5,285.6 L1688.4,283.2 L1689.3,282.3 L1690.3,282.9 L1691.1,280.7 L1691.8,281.1 L1692.6,279.6 L1693.4,280.6 L1694.4,280.7 L1695.3,279.4 L1696.2,280.5 L1697.2,279.9 L1697.8,278 L1698.4,278.5 L1699,279.2 L1699.6,278.5 L1700.2,276.1 L1701.1,276.2 L1702,274.4 L1703,277.2 L1703.9,273.9 L1704.8,275.3 L1705.4,272.9 L1706.1,275.4 L1706.7,272.2 L1707.3,273.8 L1708,272.3 L1708.6,270.7 L1709.5,272.9 L1710.5,273.5 L1711.5,273.3 L1712.4,273 L1713.4,272 L1714.3,273.5 L1715.2,274.1 L1716.2,272.3 L1717.2,272.9 L1718.1,271.4 L1719,272.9 L1720,273.8 L1720.9,273.6 L1721.8,274.3 L1722.7,274.2 L1723.6,276.6 L1724.5,275.3 L1725.4,273.2 L1726.3,275 L1727.3,272.3 L1728.2,271.9 L1729.1,273 L1730,271.2 L1731,271.2 L1732,270.6 L1732.9,271.5 L1733.2,269.6 L1733.4,270.6 L1733.7,269.7 L1733.9,268.1 L1734.2,267.4 L1734.4,266.2 L1735.4,265 L1736.3,264.4 L1737.2,264 L1738.2,265.4 L1739.1,265 L1740,264.1 L1741,265.4 L1741.9,267.1 L1742.8,266.2 L1743.7,267 L1744.6,267.8 L1745.6,264.9 L1746.5,264.6 L1747.4,266.2 L1748.2,264.1 L1748.9,266.8 L1749.7,265.6 L1750.4,263.5 L1751.2,265.2 L1751.9,263.1 L1752.7,263.1 L1753.4,265.9 L1754.2,264.4 L1754.9,265 L1755.7,266.2 L1756.6,267.4 L1757.5,265.1 L1758.4,266.7 L1759.3,268.8 L1760.2,268.1 L1761.1,267.7 L1762,266 L1762.9,267 L1763.8,267.2 L1764.7,266 L1765.6,266.9 L1766.5,267.3 L1767.4,268.2 L1768.4,266.5 L1769.3,267.6 L1770.2,266.2 L1771.1,266.9 L1772,267 L1773,266 L1773.9,268.8 L1774.8,267.7 L1775.3,268.4 L1775.8,265.3 L1776.3,263.8 L1776.8,264.9 L1777.3,263.4 L1777.8,262.4 L1778.9,263.6 L1780.1,261.6 L1780.6,263.1 L1781.1,263 L1781.6,262.3 L1782.1,265.5 L1782.6,265.6 L1783.1,266.2 L1784,265.2 L1785,265.8 L1786,266.3 L1786.9,268.5 L1787.9,269 L1788.8,267.1 L1789.8,265.7 L1790.7,266.9 L1791.7,266.2 L1792.6,267.2 L1793.5,268.5 L1794.5,269.2 L1795.4,269.7 L1796.3,269.6 L1797.3,271.6 L1798.2,272.5 L1799.1,271.5 L1799.8,271.9 L1800.6,274.6 L1801.3,273.6 L1802.1,274.5 L1803.1,273.3 L1804.1,274.7 L1805.2,272.9 L1806.2,274.1 L1807.2,273 L1808.2,274.5 L1809.3,273.9 L1810.3,274.8 L1811.4,272.9 L1812.4,275 L1813.5,274.5 L1814.4,275.1 L1815.3,274.7 L1816.2,276.3 L1817.1,276 L1818,275.3 L1818.9,276.1 L1819.8,274.5 L1820.7,276.8 L1821.6,276.7 L1822.5,273.9 L1823.4,275.3 L1824.3,274.3 L1825.2,273.7 L1826.2,276.5 L1827.1,274.5 L1828,275.3 L1829,273.1 L1829.9,275.8 L1830.8,274.2 L1831.8,273 L1832.9,273.3 L1834.1,273 L1834.7,274.1 L1835.2,274.3 L1835.8,275.4 L1836.4,276.1 L1837.2,278 L1837.9,277.9 L1838.7,277.3 L1839.4,278.6 L1840.2,279.1 L1840.8,281.5 L1841.4,279.8 L1842,279.8 L1842.6,282.3 L1843.2,282.9 L1844.1,281.5 L1845,284.8 L1846,284.2 L1846.9,284.4 L1847.8,283.7 L1848.7,284.3 L1849.6,285.6 L1850.5,282.7 L1851.4,284.2 L1852.3,284.4 L1853.2,282.8 L1854.2,286 L1855.1,284.3 L1856.1,284.4 L1857,285.7 L1857.9,283.4 L1858.9,282 L1859.8,282.2 L1860.7,282.9 L1861.7,283.8 L1862.6,281.4 L1863.5,282.7 L1864.5,282.2 L1865.4,281.6 L1866.3,282.1 L1867.3,282.7 L1868.2,285.6 L1869.1,284.4 L1870,283.1 L1870.9,285.4 L1871.8,286.3 L1872.6,284.4 L1873.5,284.1 L1874.4,286" fill="none" stroke="#e0290c" stroke-width="3.5" stroke-linejoin="round" stroke-linecap="round"/>
<!-- annotations -->
<line x1="-1.16" y1="859" x2="1893.2" y2="859" stroke="#4c78a8" stroke-width="3.8" stroke-dasharray="4.2 4.2"/>
<g stroke="#0b6fc4" stroke-width="7.4" stroke-dasharray="7.6 9.2" fill="none">
<line x1="548.5" y1="774.5" x2="509" y2="832"/>
<line x1="1316.5" y1="774.5" x2="1277" y2="832"/>
</g>
<polygon points="500,826.2 518.8,838.4 496.2,851.5" fill="#0b6fc4"/>
<polygon points="1268,826.2 1286.8,838.4 1264.2,851.5" fill="#0b6fc4"/>
<!-- red annotation -->
<g stroke="#c4161c" fill="none">
<line x1="1594.3" y1="190" x2="1817" y2="190" stroke-width="4" stroke-dasharray="4.2 4.19"/>
<line x1="1819" y1="188" x2="1858.4" y2="269.9" stroke-width="3.8" stroke-dasharray="4.2 4.23"/>
</g>
<polygon points="1852,274.2 1866,267.2 1865.6,284.3" fill="#f01515"/>
<!-- circle -->
<ellipse cx="1861" cy="290.8" rx="36.8" ry="38.4" pathLength="190" fill="none" stroke="#1878b8" stroke-width="5.6" stroke-dasharray="4.5 5.5" stroke-dashoffset="-5.87"/>
<!-- green annotation -->
<g stroke="#17a34a" fill="none">
<line x1="1624" y1="828" x2="1821.5" y2="828" stroke-width="4" stroke-dasharray="4 4.4"/>
<line x1="1822.7" y1="825.9" x2="1861.5" y2="905.8" stroke-width="3.7" stroke-dasharray="4.1 4.37"/>
</g>
<polygon points="1855.7,913 1870.5,906 1870,923.5" fill="#17a34a"/>
<g class="ann">
<text fill="#d3141a"><tspan x="1611.5" y="124.8" font-size="27.4" letter-spacing="-2.2">亏损筹码的平均</tspan></text>
<text fill="#d3141a"><tspan x="1610.5" y="169" font-size="27.4" letter-spacing="-1.9">成本：</tspan><tspan x="1690.5" y="168.6" font-size="28.6" letter-spacing="-1.2" stroke="#d3141a" stroke-width="0.5">$93,600</tspan></text>
<text fill="#156cb3"><tspan x="155.7" y="844.6" font-size="27.4" letter-spacing="-1.8">偏差系数为 </tspan><tspan x="293" y="844.8" font-size="28.6" letter-spacing="-0.4" stroke="#156cb3" stroke-width="0.5">2.0</tspan></text>
<text fill="#1aa34a"><tspan x="1649.3" y="764.6" font-size="28.6" letter-spacing="-0.6" stroke="#1aa34a" stroke-width="0.5">30</tspan><tspan x="1676.2" y="765.3" font-size="27.4" letter-spacing="-1.9">日平均偏</tspan></text>
<text fill="#1aa34a"><tspan x="1646.7" y="809" font-size="27.4" letter-spacing="-1.9">差系数为 </tspan><tspan x="1760.6" y="808.6" font-size="28.6" letter-spacing="-2" stroke="#1aa34a" stroke-width="0.5">1.4</tspan></text>
</g>
</svg>
</body>
</html>
